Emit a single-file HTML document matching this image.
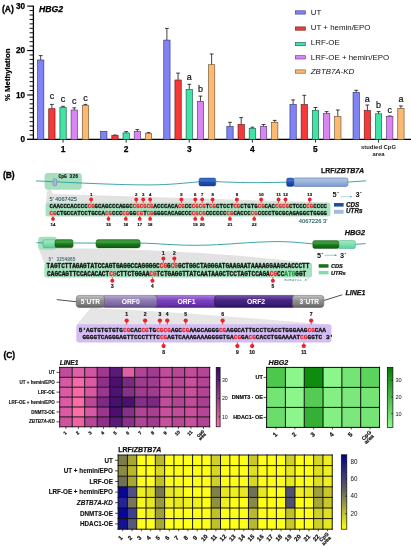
<!DOCTYPE html>
<html lang="en">
<head>
<meta charset="utf-8">
<title>Figure: methylation analysis</title>
<style>
html,body{margin:0;padding:0;background:#fff;}
body{width:411px;height:550px;overflow:hidden;font-family:"Liberation Sans", Arial, sans-serif;}
svg{display:block;}
svg text{font-family:"Liberation Sans", Arial, sans-serif;}
</style>
</head>
<body>
<svg width="411" height="550" viewBox="0 0 411 550">
<defs>
<linearGradient id="gGray" x1="0" y1="0" x2="0" y2="1"><stop offset="0" stop-color="#c4c4c4"/><stop offset="0.4" stop-color="#929292"/><stop offset="0.8" stop-color="#7a7a7a"/><stop offset="1" stop-color="#5c5c5c"/></linearGradient>
<linearGradient id="gOrf0" x1="0" y1="0" x2="0" y2="1"><stop offset="0" stop-color="#b9abd2"/><stop offset="0.4" stop-color="#8f7cb2"/><stop offset="0.8" stop-color="#7a669f"/><stop offset="1" stop-color="#5d4a84"/></linearGradient>
<linearGradient id="gOrf1" x1="0" y1="0" x2="0" y2="1"><stop offset="0" stop-color="#a880de"/><stop offset="0.4" stop-color="#7b42c0"/><stop offset="0.8" stop-color="#6a33aa"/><stop offset="1" stop-color="#4e2288"/></linearGradient>
<linearGradient id="gOrf2" x1="0" y1="0" x2="0" y2="1"><stop offset="0" stop-color="#7556aa"/><stop offset="0.4" stop-color="#472684"/><stop offset="0.8" stop-color="#3a1c72"/><stop offset="1" stop-color="#28105a"/></linearGradient>
<linearGradient id="gDG" x1="0" y1="0" x2="0" y2="1"><stop offset="0" stop-color="#2a8a2a"/><stop offset="0.28" stop-color="#3fa03f"/><stop offset="0.55" stop-color="#1a781a"/><stop offset="1" stop-color="#0f5a0f"/></linearGradient>
<linearGradient id="gLG" x1="0" y1="0" x2="0" y2="1"><stop offset="0" stop-color="#a6ecc6"/><stop offset="1" stop-color="#5ecf98"/></linearGradient>
<linearGradient id="gDB" x1="0" y1="0" x2="0" y2="1"><stop offset="0" stop-color="#2e5fbe"/><stop offset="0.3" stop-color="#3a6fd0"/><stop offset="0.55" stop-color="#2050ae"/><stop offset="1" stop-color="#173c8c"/></linearGradient>
<linearGradient id="gLB" x1="0" y1="0" x2="0" y2="1"><stop offset="0" stop-color="#b6c8e6"/><stop offset="0.5" stop-color="#9bb3db"/><stop offset="1" stop-color="#7b98c9"/></linearGradient>
<linearGradient id="cbLine" x1="0" y1="0" x2="0" y2="1"><stop offset="0" stop-color="#3a0868"/><stop offset="1" stop-color="#ff72ab"/></linearGradient>
<linearGradient id="cbHbg" x1="0" y1="0" x2="0" y2="1"><stop offset="0" stop-color="#087a08"/><stop offset="1" stop-color="#92f792"/></linearGradient>
<linearGradient id="cbLrf" x1="0" y1="0" x2="0" y2="1"><stop offset="0" stop-color="#00008c"/><stop offset="0.45" stop-color="#5c5c64"/><stop offset="1" stop-color="#ffff10"/></linearGradient>
</defs>
<rect x="0" y="0" width="411" height="550" fill="#ffffff"/>
<g id="panelA">
<text x="1.90" y="11.80" font-size="8.6" font-weight="bold" font-style="normal" text-anchor="start" fill="#000" stroke="#000" stroke-width="0.3">(A)</text>
<text x="39.00" y="12.00" font-size="8.7" font-weight="bold" font-style="italic" text-anchor="start" fill="#000" stroke="#000" stroke-width="0.25">HBG2</text>
<text transform="translate(10.4,74.8) rotate(-90)" font-size="7.8" font-weight="bold" text-anchor="middle" stroke="#000" stroke-width="0.2">% Methylation</text>
<line x1="33.40" y1="5.70" x2="33.40" y2="139.90" stroke="#000" stroke-width="1.3"/>
<line x1="27.20" y1="139.40" x2="33.40" y2="139.40" stroke="#000" stroke-width="1.15"/>
<text x="25.00" y="142.30" font-size="8.2" font-weight="bold" font-style="normal" text-anchor="end" fill="#000" stroke="#000" stroke-width="0.25">0</text>
<line x1="29.60" y1="134.96" x2="33.40" y2="134.96" stroke="#000" stroke-width="0.95"/>
<line x1="29.60" y1="130.51" x2="33.40" y2="130.51" stroke="#000" stroke-width="0.95"/>
<line x1="29.60" y1="126.07" x2="33.40" y2="126.07" stroke="#000" stroke-width="0.95"/>
<line x1="29.60" y1="121.63" x2="33.40" y2="121.63" stroke="#000" stroke-width="0.95"/>
<line x1="29.60" y1="117.19" x2="33.40" y2="117.19" stroke="#000" stroke-width="0.95"/>
<line x1="29.60" y1="112.74" x2="33.40" y2="112.74" stroke="#000" stroke-width="0.95"/>
<line x1="29.60" y1="108.30" x2="33.40" y2="108.30" stroke="#000" stroke-width="0.95"/>
<line x1="29.60" y1="103.86" x2="33.40" y2="103.86" stroke="#000" stroke-width="0.95"/>
<line x1="29.60" y1="99.41" x2="33.40" y2="99.41" stroke="#000" stroke-width="0.95"/>
<line x1="27.20" y1="94.97" x2="33.40" y2="94.97" stroke="#000" stroke-width="1.15"/>
<text x="25.00" y="97.87" font-size="8.2" font-weight="bold" font-style="normal" text-anchor="end" fill="#000" stroke="#000" stroke-width="0.25">10</text>
<line x1="29.60" y1="90.53" x2="33.40" y2="90.53" stroke="#000" stroke-width="0.95"/>
<line x1="29.60" y1="86.08" x2="33.40" y2="86.08" stroke="#000" stroke-width="0.95"/>
<line x1="29.60" y1="81.64" x2="33.40" y2="81.64" stroke="#000" stroke-width="0.95"/>
<line x1="29.60" y1="77.20" x2="33.40" y2="77.20" stroke="#000" stroke-width="0.95"/>
<line x1="29.60" y1="72.76" x2="33.40" y2="72.76" stroke="#000" stroke-width="0.95"/>
<line x1="29.60" y1="68.31" x2="33.40" y2="68.31" stroke="#000" stroke-width="0.95"/>
<line x1="29.60" y1="63.87" x2="33.40" y2="63.87" stroke="#000" stroke-width="0.95"/>
<line x1="29.60" y1="59.43" x2="33.40" y2="59.43" stroke="#000" stroke-width="0.95"/>
<line x1="29.60" y1="54.98" x2="33.40" y2="54.98" stroke="#000" stroke-width="0.95"/>
<line x1="27.20" y1="50.54" x2="33.40" y2="50.54" stroke="#000" stroke-width="1.15"/>
<text x="25.00" y="53.44" font-size="8.2" font-weight="bold" font-style="normal" text-anchor="end" fill="#000" stroke="#000" stroke-width="0.25">20</text>
<line x1="29.60" y1="46.10" x2="33.40" y2="46.10" stroke="#000" stroke-width="0.95"/>
<line x1="29.60" y1="41.65" x2="33.40" y2="41.65" stroke="#000" stroke-width="0.95"/>
<line x1="29.60" y1="37.21" x2="33.40" y2="37.21" stroke="#000" stroke-width="0.95"/>
<line x1="29.60" y1="32.77" x2="33.40" y2="32.77" stroke="#000" stroke-width="0.95"/>
<line x1="29.60" y1="28.33" x2="33.40" y2="28.33" stroke="#000" stroke-width="0.95"/>
<line x1="29.60" y1="23.88" x2="33.40" y2="23.88" stroke="#000" stroke-width="0.95"/>
<line x1="29.60" y1="19.44" x2="33.40" y2="19.44" stroke="#000" stroke-width="0.95"/>
<line x1="29.60" y1="15.00" x2="33.40" y2="15.00" stroke="#000" stroke-width="0.95"/>
<line x1="29.60" y1="10.55" x2="33.40" y2="10.55" stroke="#000" stroke-width="0.95"/>
<line x1="27.20" y1="6.11" x2="33.40" y2="6.11" stroke="#000" stroke-width="1.15"/>
<text x="25.00" y="9.01" font-size="8.2" font-weight="bold" font-style="normal" text-anchor="end" fill="#000" stroke="#000" stroke-width="0.25">30</text>
<line x1="27.20" y1="139.40" x2="411.00" y2="139.40" stroke="#000" stroke-width="1.3"/>
<line x1="40.70" y1="55.60" x2="40.70" y2="60.00" stroke="#111" stroke-width="0.8"/>
<line x1="38.80" y1="55.60" x2="42.60" y2="55.60" stroke="#111" stroke-width="0.8"/>
<rect x="37.55" y="60.00" width="6.30" height="79.40" fill="#8083f5" stroke="#34357a" stroke-width="0.65" rx="0"/>
<line x1="51.88" y1="104.40" x2="51.88" y2="108.70" stroke="#111" stroke-width="0.8"/>
<line x1="49.98" y1="104.40" x2="53.78" y2="104.40" stroke="#111" stroke-width="0.8"/>
<rect x="48.73" y="108.70" width="6.30" height="30.70" fill="#f53838" stroke="#6a1a1a" stroke-width="0.65" rx="0"/>
<text x="51.88" y="99.30" font-size="9.0" font-weight="normal" font-style="normal" text-anchor="middle" fill="#111" stroke="#111" stroke-width="0.2">c</text>
<line x1="63.06" y1="106.30" x2="63.06" y2="107.30" stroke="#111" stroke-width="0.8"/>
<line x1="61.16" y1="106.30" x2="64.96" y2="106.30" stroke="#111" stroke-width="0.8"/>
<rect x="59.91" y="107.30" width="6.30" height="32.10" fill="#40e4a6" stroke="#1d5a44" stroke-width="0.65" rx="0"/>
<text x="63.06" y="102.00" font-size="9.0" font-weight="normal" font-style="normal" text-anchor="middle" fill="#111" stroke="#111" stroke-width="0.2">c</text>
<line x1="74.24" y1="107.80" x2="74.24" y2="110.00" stroke="#111" stroke-width="0.8"/>
<line x1="72.34" y1="107.80" x2="76.14" y2="107.80" stroke="#111" stroke-width="0.8"/>
<rect x="71.09" y="110.00" width="6.30" height="29.40" fill="#d786f3" stroke="#5e3670" stroke-width="0.65" rx="0"/>
<text x="74.24" y="103.90" font-size="9.0" font-weight="normal" font-style="normal" text-anchor="middle" fill="#111" stroke="#111" stroke-width="0.2">c</text>
<line x1="85.42" y1="104.40" x2="85.42" y2="105.30" stroke="#111" stroke-width="0.8"/>
<line x1="83.52" y1="104.40" x2="87.32" y2="104.40" stroke="#111" stroke-width="0.8"/>
<rect x="82.27" y="105.30" width="6.30" height="34.10" fill="#fbb972" stroke="#6e5330" stroke-width="0.65" rx="0"/>
<text x="85.42" y="100.70" font-size="9.0" font-weight="normal" font-style="normal" text-anchor="middle" fill="#111" stroke="#111" stroke-width="0.2">c</text>
<rect x="100.65" y="131.30" width="6.30" height="8.10" fill="#8083f5" stroke="#34357a" stroke-width="0.65" rx="0"/>
<line x1="114.98" y1="135.00" x2="114.98" y2="135.60" stroke="#111" stroke-width="0.8"/>
<line x1="113.08" y1="135.00" x2="116.88" y2="135.00" stroke="#111" stroke-width="0.8"/>
<rect x="111.83" y="135.60" width="6.30" height="3.80" fill="#f53838" stroke="#6a1a1a" stroke-width="0.65" rx="0"/>
<line x1="126.16" y1="131.60" x2="126.16" y2="132.90" stroke="#111" stroke-width="0.8"/>
<line x1="124.26" y1="131.60" x2="128.06" y2="131.60" stroke="#111" stroke-width="0.8"/>
<rect x="123.01" y="132.90" width="6.30" height="6.50" fill="#40e4a6" stroke="#1d5a44" stroke-width="0.65" rx="0"/>
<line x1="137.34" y1="129.60" x2="137.34" y2="131.30" stroke="#111" stroke-width="0.8"/>
<line x1="135.44" y1="129.60" x2="139.24" y2="129.60" stroke="#111" stroke-width="0.8"/>
<rect x="134.19" y="131.30" width="6.30" height="8.10" fill="#d786f3" stroke="#5e3670" stroke-width="0.65" rx="0"/>
<line x1="148.52" y1="132.60" x2="148.52" y2="133.50" stroke="#111" stroke-width="0.8"/>
<line x1="146.62" y1="132.60" x2="150.42" y2="132.60" stroke="#111" stroke-width="0.8"/>
<rect x="145.37" y="133.50" width="6.30" height="5.90" fill="#fbb972" stroke="#6e5330" stroke-width="0.65" rx="0"/>
<line x1="166.90" y1="28.40" x2="166.90" y2="40.10" stroke="#111" stroke-width="0.8"/>
<line x1="165.00" y1="28.40" x2="168.80" y2="28.40" stroke="#111" stroke-width="0.8"/>
<rect x="163.75" y="40.10" width="6.30" height="99.30" fill="#8083f5" stroke="#34357a" stroke-width="0.65" rx="0"/>
<line x1="178.08" y1="73.10" x2="178.08" y2="80.00" stroke="#111" stroke-width="0.8"/>
<line x1="176.18" y1="73.10" x2="179.98" y2="73.10" stroke="#111" stroke-width="0.8"/>
<rect x="174.93" y="80.00" width="6.30" height="59.40" fill="#f53838" stroke="#6a1a1a" stroke-width="0.65" rx="0"/>
<line x1="189.26" y1="84.30" x2="189.26" y2="89.50" stroke="#111" stroke-width="0.8"/>
<line x1="187.36" y1="84.30" x2="191.16" y2="84.30" stroke="#111" stroke-width="0.8"/>
<rect x="186.11" y="89.50" width="6.30" height="49.90" fill="#40e4a6" stroke="#1d5a44" stroke-width="0.65" rx="0"/>
<text x="189.26" y="80.20" font-size="9.0" font-weight="normal" font-style="normal" text-anchor="middle" fill="#111" stroke="#111" stroke-width="0.2">a</text>
<line x1="200.44" y1="96.10" x2="200.44" y2="101.30" stroke="#111" stroke-width="0.8"/>
<line x1="198.54" y1="96.10" x2="202.34" y2="96.10" stroke="#111" stroke-width="0.8"/>
<rect x="197.29" y="101.30" width="6.30" height="38.10" fill="#d786f3" stroke="#5e3670" stroke-width="0.65" rx="0"/>
<text x="200.44" y="91.60" font-size="9.0" font-weight="normal" font-style="normal" text-anchor="middle" fill="#111" stroke="#111" stroke-width="0.2">b</text>
<line x1="211.62" y1="54.00" x2="211.62" y2="64.70" stroke="#111" stroke-width="0.8"/>
<line x1="209.72" y1="54.00" x2="213.52" y2="54.00" stroke="#111" stroke-width="0.8"/>
<rect x="208.47" y="64.70" width="6.30" height="74.70" fill="#fbb972" stroke="#6e5330" stroke-width="0.65" rx="0"/>
<line x1="230.00" y1="122.30" x2="230.00" y2="126.60" stroke="#111" stroke-width="0.8"/>
<line x1="228.10" y1="122.30" x2="231.90" y2="122.30" stroke="#111" stroke-width="0.8"/>
<rect x="226.85" y="126.60" width="6.30" height="12.80" fill="#8083f5" stroke="#34357a" stroke-width="0.65" rx="0"/>
<line x1="241.18" y1="117.60" x2="241.18" y2="124.50" stroke="#111" stroke-width="0.8"/>
<line x1="239.28" y1="117.60" x2="243.08" y2="117.60" stroke="#111" stroke-width="0.8"/>
<rect x="238.03" y="124.50" width="6.30" height="14.90" fill="#f53838" stroke="#6a1a1a" stroke-width="0.65" rx="0"/>
<line x1="252.36" y1="127.20" x2="252.36" y2="128.30" stroke="#111" stroke-width="0.8"/>
<line x1="250.46" y1="127.20" x2="254.26" y2="127.20" stroke="#111" stroke-width="0.8"/>
<rect x="249.21" y="128.30" width="6.30" height="11.10" fill="#40e4a6" stroke="#1d5a44" stroke-width="0.65" rx="0"/>
<line x1="263.54" y1="124.50" x2="263.54" y2="126.60" stroke="#111" stroke-width="0.8"/>
<line x1="261.64" y1="124.50" x2="265.44" y2="124.50" stroke="#111" stroke-width="0.8"/>
<rect x="260.39" y="126.60" width="6.30" height="12.80" fill="#d786f3" stroke="#5e3670" stroke-width="0.65" rx="0"/>
<line x1="274.72" y1="120.40" x2="274.72" y2="122.30" stroke="#111" stroke-width="0.8"/>
<line x1="272.82" y1="120.40" x2="276.62" y2="120.40" stroke="#111" stroke-width="0.8"/>
<rect x="271.57" y="122.30" width="6.30" height="17.10" fill="#fbb972" stroke="#6e5330" stroke-width="0.65" rx="0"/>
<line x1="293.10" y1="99.90" x2="293.10" y2="104.50" stroke="#111" stroke-width="0.8"/>
<line x1="291.20" y1="99.90" x2="295.00" y2="99.90" stroke="#111" stroke-width="0.8"/>
<rect x="289.95" y="104.50" width="6.30" height="34.90" fill="#8083f5" stroke="#34357a" stroke-width="0.65" rx="0"/>
<line x1="304.28" y1="95.30" x2="304.28" y2="104.50" stroke="#111" stroke-width="0.8"/>
<line x1="302.38" y1="95.30" x2="306.18" y2="95.30" stroke="#111" stroke-width="0.8"/>
<rect x="301.13" y="104.50" width="6.30" height="34.90" fill="#f53838" stroke="#6a1a1a" stroke-width="0.65" rx="0"/>
<line x1="315.46" y1="107.50" x2="315.46" y2="110.30" stroke="#111" stroke-width="0.8"/>
<line x1="313.56" y1="107.50" x2="317.36" y2="107.50" stroke="#111" stroke-width="0.8"/>
<rect x="312.31" y="110.30" width="6.30" height="29.10" fill="#40e4a6" stroke="#1d5a44" stroke-width="0.65" rx="0"/>
<line x1="326.64" y1="111.60" x2="326.64" y2="113.30" stroke="#111" stroke-width="0.8"/>
<line x1="324.74" y1="111.60" x2="328.54" y2="111.60" stroke="#111" stroke-width="0.8"/>
<rect x="323.49" y="113.30" width="6.30" height="26.10" fill="#d786f3" stroke="#5e3670" stroke-width="0.65" rx="0"/>
<line x1="337.82" y1="110.00" x2="337.82" y2="116.50" stroke="#111" stroke-width="0.8"/>
<line x1="335.92" y1="110.00" x2="339.72" y2="110.00" stroke="#111" stroke-width="0.8"/>
<rect x="334.67" y="116.50" width="6.30" height="22.90" fill="#fbb972" stroke="#6e5330" stroke-width="0.65" rx="0"/>
<line x1="356.20" y1="90.30" x2="356.20" y2="92.50" stroke="#111" stroke-width="0.8"/>
<line x1="354.30" y1="90.30" x2="358.10" y2="90.30" stroke="#111" stroke-width="0.8"/>
<rect x="353.05" y="92.50" width="6.30" height="46.90" fill="#8083f5" stroke="#34357a" stroke-width="0.65" rx="0"/>
<line x1="367.38" y1="105.00" x2="367.38" y2="110.50" stroke="#111" stroke-width="0.8"/>
<line x1="365.48" y1="105.00" x2="369.28" y2="105.00" stroke="#111" stroke-width="0.8"/>
<rect x="364.23" y="110.50" width="6.30" height="28.90" fill="#f53838" stroke="#6a1a1a" stroke-width="0.65" rx="0"/>
<text x="367.38" y="102.00" font-size="9.0" font-weight="normal" font-style="normal" text-anchor="middle" fill="#111" stroke="#111" stroke-width="0.2">a</text>
<line x1="378.56" y1="111.60" x2="378.56" y2="113.80" stroke="#111" stroke-width="0.8"/>
<line x1="376.66" y1="111.60" x2="380.46" y2="111.60" stroke="#111" stroke-width="0.8"/>
<rect x="375.41" y="113.80" width="6.30" height="25.60" fill="#40e4a6" stroke="#1d5a44" stroke-width="0.65" rx="0"/>
<text x="378.56" y="108.30" font-size="9.0" font-weight="normal" font-style="normal" text-anchor="middle" fill="#111" stroke="#111" stroke-width="0.2">b</text>
<line x1="389.74" y1="116.00" x2="389.74" y2="116.50" stroke="#111" stroke-width="0.8"/>
<line x1="387.84" y1="116.00" x2="391.64" y2="116.00" stroke="#111" stroke-width="0.8"/>
<rect x="386.59" y="116.50" width="6.30" height="22.90" fill="#d786f3" stroke="#5e3670" stroke-width="0.65" rx="0"/>
<text x="389.74" y="112.70" font-size="9.0" font-weight="normal" font-style="normal" text-anchor="middle" fill="#111" stroke="#111" stroke-width="0.2">c</text>
<line x1="400.92" y1="105.90" x2="400.92" y2="108.40" stroke="#111" stroke-width="0.8"/>
<line x1="399.02" y1="105.90" x2="402.82" y2="105.90" stroke="#111" stroke-width="0.8"/>
<rect x="397.77" y="108.40" width="6.30" height="31.00" fill="#fbb972" stroke="#6e5330" stroke-width="0.65" rx="0"/>
<text x="400.92" y="102.00" font-size="9.0" font-weight="normal" font-style="normal" text-anchor="middle" fill="#111" stroke="#111" stroke-width="0.2">a</text>
<line x1="63.06" y1="139.40" x2="63.06" y2="142.60" stroke="#000" stroke-width="0.8"/>
<text x="63.06" y="151.60" font-size="8.4" font-weight="bold" font-style="normal" text-anchor="middle" fill="#000" stroke="#000" stroke-width="0.25">1</text>
<line x1="126.16" y1="139.40" x2="126.16" y2="142.60" stroke="#000" stroke-width="0.8"/>
<text x="126.16" y="151.60" font-size="8.4" font-weight="bold" font-style="normal" text-anchor="middle" fill="#000" stroke="#000" stroke-width="0.25">2</text>
<line x1="189.26" y1="139.40" x2="189.26" y2="142.60" stroke="#000" stroke-width="0.8"/>
<text x="189.26" y="151.60" font-size="8.4" font-weight="bold" font-style="normal" text-anchor="middle" fill="#000" stroke="#000" stroke-width="0.25">3</text>
<line x1="252.36" y1="139.40" x2="252.36" y2="142.60" stroke="#000" stroke-width="0.8"/>
<text x="252.36" y="151.60" font-size="8.4" font-weight="bold" font-style="normal" text-anchor="middle" fill="#000" stroke="#000" stroke-width="0.25">4</text>
<line x1="315.46" y1="139.40" x2="315.46" y2="142.60" stroke="#000" stroke-width="0.8"/>
<text x="315.46" y="151.60" font-size="8.4" font-weight="bold" font-style="normal" text-anchor="middle" fill="#000" stroke="#000" stroke-width="0.25">5</text>
<line x1="378.56" y1="139.40" x2="378.56" y2="142.60" stroke="#000" stroke-width="0.8"/>
<text x="378.56" y="148.60" font-size="5.9" font-weight="bold" font-style="normal" text-anchor="middle" fill="#222">studied CpG</text>
<text x="378.56" y="155.80" font-size="5.9" font-weight="bold" font-style="normal" text-anchor="middle" fill="#222">area</text>
<rect x="295.40" y="10.80" width="10.00" height="3.30" fill="#8083f5" stroke="#34357a" stroke-width="0.6" rx="0"/>
<text x="310.80" y="15.30" font-size="7.9" font-weight="normal" font-style="normal" text-anchor="start" fill="#111">UT</text>
<rect x="295.40" y="26.90" width="10.00" height="3.30" fill="#f53838" stroke="#6a1a1a" stroke-width="0.6" rx="0"/>
<text x="310.80" y="30.05" font-size="7.9" font-weight="normal" font-style="normal" text-anchor="start" fill="#111">UT + hemin/EPO</text>
<rect x="295.40" y="42.40" width="10.00" height="3.30" fill="#40e4a6" stroke="#1d5a44" stroke-width="0.6" rx="0"/>
<text x="310.80" y="44.80" font-size="7.9" font-weight="normal" font-style="normal" text-anchor="start" fill="#111">LRF-OE</text>
<rect x="295.40" y="55.70" width="10.00" height="3.30" fill="#d786f3" stroke="#5e3670" stroke-width="0.6" rx="0"/>
<text x="310.80" y="59.55" font-size="7.9" font-weight="normal" font-style="normal" text-anchor="start" fill="#111">LRF-OE + hemin/EPO</text>
<rect x="295.40" y="69.90" width="10.00" height="3.30" fill="#fbb972" stroke="#6e5330" stroke-width="0.6" rx="0"/>
<text x="310.80" y="74.30" font-size="7.9" font-weight="normal" font-style="italic" text-anchor="start" fill="#111">ZBTB7A-KD</text>
</g>
<g id="panelB">
<text x="2.90" y="178.20" font-size="8.5" font-weight="bold" font-style="normal" text-anchor="start" fill="#000" stroke="#000" stroke-width="0.3">(B)</text>
<polygon points="47.6,189.4 51.2,189.4 52.4,194.0 329,202.5 329,204 46,204 46.6,194.2" fill="#e2e2e2"/>
<rect x="44.60" y="172.90" width="37.20" height="16.80" fill="#9fddba" stroke="none" stroke-width="0" rx="3.4" fill-opacity="0.94"/>
<path d="M36,180.9 C80,183 120,185 150,184.9 C170,184.8 185,183 199,181.8" fill="none" stroke="#2a9aa2" stroke-width="0.9"/>
<path d="M216,181.6 C232,182.4 250,182.8 262,182.6 L287,182.2" fill="none" stroke="#2a9aa2" stroke-width="0.9"/>
<path d="M347.6,182.1 L366,180.8" fill="none" stroke="#2a9aa2" stroke-width="0.9"/>
<rect x="53.00" y="178.90" width="3.70" height="6.80" fill="#aab4de" stroke="#6b78b8" stroke-width="0.5" rx="0.8"/>
<text x="58.60" y="177.80" font-size="4.6" font-weight="bold" font-style="normal" text-anchor="start" fill="#14201e" stroke="#14201e" stroke-width="0.2" style="font-family:'Liberation Mono','DejaVu Sans Mono',monospace">CpG 326</text>
<rect x="199.00" y="178.00" width="16.80" height="8.00" fill="url(#gDB)" stroke="#163a7c" stroke-width="0.4" rx="1.8"/>
<rect x="293.00" y="178.00" width="54.90" height="8.40" fill="url(#gLB)" stroke="#4f6fa6" stroke-width="0.6" rx="1.9"/>
<rect x="286.60" y="178.00" width="7.20" height="8.40" fill="url(#gDB)" stroke="#163a7c" stroke-width="0.4" rx="1.7"/>
<text x="321.0" y="173.4" font-size="7.2" font-weight="bold" fill="#111" stroke="#111" stroke-width="0.25" textLength="43.2" lengthAdjust="spacingAndGlyphs">LRF/<tspan font-style="italic">ZBTB7A</tspan></text>
<text x="332.60" y="197.20" font-size="7.4" font-weight="bold" font-style="normal" text-anchor="start" fill="#111">5´</text>
<text x="355.40" y="197.20" font-size="7.4" font-weight="bold" font-style="normal" text-anchor="start" fill="#111">3´</text>
<line x1="340.60" y1="196.70" x2="351.00" y2="196.70" stroke="#6cc4c4" stroke-width="0.55"/>
<path d="M350.4,195.8 L352.2,196.7 L350.4,197.6 Z" fill="#2a9aa2"/>
<rect x="334.00" y="203.00" width="9.60" height="3.60" fill="#1f4f9f" stroke="none" stroke-width="0" rx="0"/>
<rect x="334.00" y="209.80" width="9.60" height="4.00" fill="#a3b9e0" stroke="none" stroke-width="0" rx="0"/>
<text x="346.00" y="207.10" font-size="6.3" font-weight="bold" font-style="italic" text-anchor="start" fill="#111" stroke="#111" stroke-width="0.25">CDS</text>
<text x="346.00" y="213.40" font-size="6.3" font-weight="bold" font-style="italic" text-anchor="start" fill="#111" stroke="#111" stroke-width="0.25">UTRs</text>
<rect x="45.60" y="202.70" width="284.80" height="13.80" fill="#a6e2be" stroke="none" stroke-width="0" rx="2.2"/>
<text x="49.50" y="200.60" font-size="5.6" font-weight="normal" font-style="normal" text-anchor="start" fill="#235e66" stroke="#235e66" stroke-width="0.12">5’ 4067425</text>
<text x="298.80" y="222.60" font-size="5.8" font-weight="normal" font-style="normal" text-anchor="start" fill="#235e66" stroke="#235e66" stroke-width="0.12">4067226 3’</text>
<text transform="translate(49.50,208.40) scale(1,0.97)" x="0" y="0" font-size="5.783" font-weight="bold" xml:space="preserve" style="font-family:'Liberation Mono','DejaVu Sans Mono',monospace" textLength="277.60" lengthAdjust="spacing" stroke-width="0.3" stroke-linejoin="round"><tspan fill="#111" stroke="#111">CAACCCACCCC</tspan><tspan fill="#e8232b" stroke="#e8232b">CG</tspan><tspan fill="#111" stroke="#111">GCAGCCCAGGC</tspan><tspan fill="#e8232b" stroke="#e8232b">CGCGCG</tspan><tspan fill="#111" stroke="#111">ACCCACA</tspan><tspan fill="#e8232b" stroke="#e8232b">CG</tspan><tspan fill="#111" stroke="#111">CC</tspan><tspan fill="#e8232b" stroke="#e8232b">CGCG</tspan><tspan fill="#111" stroke="#111">T</tspan><tspan fill="#e8232b" stroke="#e8232b">CG</tspan><tspan fill="#111" stroke="#111">CTCCT</tspan><tspan fill="#e8232b" stroke="#e8232b">CG</tspan><tspan fill="#111" stroke="#111">CTGTG</tspan><tspan fill="#e8232b" stroke="#e8232b">CG</tspan><tspan fill="#111" stroke="#111">CAC</tspan><tspan fill="#e8232b" stroke="#e8232b">CGCG</tspan><tspan fill="#111" stroke="#111">CTCCC</tspan><tspan fill="#e8232b" stroke="#e8232b">CG</tspan><tspan fill="#111" stroke="#111">CCCC</tspan></text>
<text transform="translate(49.50,214.90) scale(1,0.97)" x="0" y="0" font-size="5.783" font-weight="bold" xml:space="preserve" style="font-family:'Liberation Mono','DejaVu Sans Mono',monospace" textLength="277.60" lengthAdjust="spacing" stroke-width="0.3" stroke-linejoin="round"><tspan fill="#e8232b" stroke="#e8232b">CG</tspan><tspan fill="#111" stroke="#111">CTGCCATCCTGCCA</tspan><tspan fill="#e8232b" stroke="#e8232b">CG</tspan><tspan fill="#111" stroke="#111">CCC</tspan><tspan fill="#e8232b" stroke="#e8232b">CG</tspan><tspan fill="#111" stroke="#111">GG</tspan><tspan fill="#e8232b" stroke="#e8232b">CG</tspan><tspan fill="#111" stroke="#111">T</tspan><tspan fill="#e8232b" stroke="#e8232b">CG</tspan><tspan fill="#111" stroke="#111">GGGCACAGCCC</tspan><tspan fill="#e8232b" stroke="#e8232b">CGCG</tspan><tspan fill="#111" stroke="#111">CCCCCC</tspan><tspan fill="#e8232b" stroke="#e8232b">CG</tspan><tspan fill="#111" stroke="#111">CACCC</tspan><tspan fill="#e8232b" stroke="#e8232b">CG</tspan><tspan fill="#111" stroke="#111">CCCCTGCGCAGAGGCTGGGG</tspan></text>
<line x1="91.14" y1="203.10" x2="91.14" y2="199.40" stroke="#e8232b" stroke-width="0.8"/>
<circle cx="91.14" cy="199.40" r="1.9" fill="#e8232b"/>
<text x="91.14" y="195.60" font-size="4.3" font-weight="bold" font-style="normal" text-anchor="middle" fill="#111" stroke="#111" stroke-width="0.18">1</text>
<line x1="136.25" y1="203.10" x2="136.25" y2="199.40" stroke="#e8232b" stroke-width="0.8"/>
<circle cx="136.25" cy="199.40" r="1.9" fill="#e8232b"/>
<text x="136.25" y="195.60" font-size="4.3" font-weight="bold" font-style="normal" text-anchor="middle" fill="#111" stroke="#111" stroke-width="0.18">2</text>
<line x1="143.19" y1="203.10" x2="143.19" y2="199.40" stroke="#e8232b" stroke-width="0.8"/>
<circle cx="143.19" cy="199.40" r="1.9" fill="#e8232b"/>
<text x="143.19" y="195.60" font-size="4.3" font-weight="bold" font-style="normal" text-anchor="middle" fill="#111" stroke="#111" stroke-width="0.18">3</text>
<line x1="150.13" y1="203.10" x2="150.13" y2="199.40" stroke="#e8232b" stroke-width="0.8"/>
<circle cx="150.13" cy="199.40" r="1.9" fill="#e8232b"/>
<text x="150.13" y="195.60" font-size="4.3" font-weight="bold" font-style="normal" text-anchor="middle" fill="#111" stroke="#111" stroke-width="0.18">4</text>
<line x1="181.36" y1="203.10" x2="181.36" y2="199.40" stroke="#e8232b" stroke-width="0.8"/>
<circle cx="181.36" cy="199.40" r="1.9" fill="#e8232b"/>
<text x="181.36" y="195.60" font-size="4.3" font-weight="bold" font-style="normal" text-anchor="middle" fill="#111" stroke="#111" stroke-width="0.18">5</text>
<line x1="195.24" y1="203.10" x2="195.24" y2="199.40" stroke="#e8232b" stroke-width="0.8"/>
<circle cx="195.24" cy="199.40" r="1.9" fill="#e8232b"/>
<text x="195.24" y="195.60" font-size="4.3" font-weight="bold" font-style="normal" text-anchor="middle" fill="#111" stroke="#111" stroke-width="0.18">6</text>
<line x1="202.18" y1="203.10" x2="202.18" y2="199.40" stroke="#e8232b" stroke-width="0.8"/>
<circle cx="202.18" cy="199.40" r="1.9" fill="#e8232b"/>
<text x="202.18" y="195.60" font-size="4.3" font-weight="bold" font-style="normal" text-anchor="middle" fill="#111" stroke="#111" stroke-width="0.18">7</text>
<line x1="212.59" y1="203.10" x2="212.59" y2="199.40" stroke="#e8232b" stroke-width="0.8"/>
<circle cx="212.59" cy="199.40" r="1.9" fill="#e8232b"/>
<text x="212.59" y="195.60" font-size="4.3" font-weight="bold" font-style="normal" text-anchor="middle" fill="#111" stroke="#111" stroke-width="0.18">8</text>
<line x1="236.88" y1="203.10" x2="236.88" y2="199.40" stroke="#e8232b" stroke-width="0.8"/>
<circle cx="236.88" cy="199.40" r="1.9" fill="#e8232b"/>
<text x="236.88" y="195.60" font-size="4.3" font-weight="bold" font-style="normal" text-anchor="middle" fill="#111" stroke="#111" stroke-width="0.18">9</text>
<line x1="261.17" y1="203.10" x2="261.17" y2="199.40" stroke="#e8232b" stroke-width="0.8"/>
<circle cx="261.17" cy="199.40" r="1.9" fill="#e8232b"/>
<text x="261.17" y="195.60" font-size="4.3" font-weight="bold" font-style="normal" text-anchor="middle" fill="#111" stroke="#111" stroke-width="0.18">10</text>
<line x1="278.52" y1="203.10" x2="278.52" y2="199.40" stroke="#e8232b" stroke-width="0.8"/>
<circle cx="278.52" cy="199.40" r="1.9" fill="#e8232b"/>
<text x="278.52" y="195.60" font-size="4.3" font-weight="bold" font-style="normal" text-anchor="middle" fill="#111" stroke="#111" stroke-width="0.18">11</text>
<line x1="285.46" y1="203.10" x2="285.46" y2="199.40" stroke="#e8232b" stroke-width="0.8"/>
<circle cx="285.46" cy="199.40" r="1.9" fill="#e8232b"/>
<text x="285.46" y="195.60" font-size="4.3" font-weight="bold" font-style="normal" text-anchor="middle" fill="#111" stroke="#111" stroke-width="0.18">12</text>
<line x1="309.75" y1="203.10" x2="309.75" y2="199.40" stroke="#e8232b" stroke-width="0.8"/>
<circle cx="309.75" cy="199.40" r="1.9" fill="#e8232b"/>
<text x="309.75" y="195.60" font-size="4.3" font-weight="bold" font-style="normal" text-anchor="middle" fill="#111" stroke="#111" stroke-width="0.18">13</text>
<line x1="52.97" y1="216.10" x2="52.97" y2="218.90" stroke="#e8232b" stroke-width="0.8"/>
<circle cx="52.97" cy="218.90" r="1.9" fill="#e8232b"/>
<text x="52.97" y="225.70" font-size="4.3" font-weight="bold" font-style="normal" text-anchor="middle" fill="#111" stroke="#111" stroke-width="0.18">14</text>
<line x1="108.49" y1="216.10" x2="108.49" y2="218.90" stroke="#e8232b" stroke-width="0.8"/>
<circle cx="108.49" cy="218.90" r="1.9" fill="#e8232b"/>
<text x="108.49" y="225.70" font-size="4.3" font-weight="bold" font-style="normal" text-anchor="middle" fill="#111" stroke="#111" stroke-width="0.18">15</text>
<line x1="125.84" y1="216.10" x2="125.84" y2="218.90" stroke="#e8232b" stroke-width="0.8"/>
<circle cx="125.84" cy="218.90" r="1.9" fill="#e8232b"/>
<text x="125.84" y="225.70" font-size="4.3" font-weight="bold" font-style="normal" text-anchor="middle" fill="#111" stroke="#111" stroke-width="0.18">16</text>
<line x1="139.72" y1="216.10" x2="139.72" y2="218.90" stroke="#e8232b" stroke-width="0.8"/>
<circle cx="139.72" cy="218.90" r="1.9" fill="#e8232b"/>
<text x="139.72" y="225.70" font-size="4.3" font-weight="bold" font-style="normal" text-anchor="middle" fill="#111" stroke="#111" stroke-width="0.18">17</text>
<line x1="150.13" y1="216.10" x2="150.13" y2="218.90" stroke="#e8232b" stroke-width="0.8"/>
<circle cx="150.13" cy="218.90" r="1.9" fill="#e8232b"/>
<text x="150.13" y="225.70" font-size="4.3" font-weight="bold" font-style="normal" text-anchor="middle" fill="#111" stroke="#111" stroke-width="0.18">18</text>
<line x1="195.24" y1="216.10" x2="195.24" y2="218.90" stroke="#e8232b" stroke-width="0.8"/>
<circle cx="195.24" cy="218.90" r="1.9" fill="#e8232b"/>
<text x="195.24" y="225.70" font-size="4.3" font-weight="bold" font-style="normal" text-anchor="middle" fill="#111" stroke="#111" stroke-width="0.18">19</text>
<line x1="202.18" y1="216.10" x2="202.18" y2="218.90" stroke="#e8232b" stroke-width="0.8"/>
<circle cx="202.18" cy="218.90" r="1.9" fill="#e8232b"/>
<text x="202.18" y="225.70" font-size="4.3" font-weight="bold" font-style="normal" text-anchor="middle" fill="#111" stroke="#111" stroke-width="0.18">20</text>
<line x1="229.94" y1="216.10" x2="229.94" y2="218.90" stroke="#e8232b" stroke-width="0.8"/>
<circle cx="229.94" cy="218.90" r="1.9" fill="#e8232b"/>
<text x="229.94" y="225.70" font-size="4.3" font-weight="bold" font-style="normal" text-anchor="middle" fill="#111" stroke="#111" stroke-width="0.18">21</text>
<line x1="254.23" y1="216.10" x2="254.23" y2="218.90" stroke="#e8232b" stroke-width="0.8"/>
<circle cx="254.23" cy="218.90" r="1.9" fill="#e8232b"/>
<text x="254.23" y="225.70" font-size="4.3" font-weight="bold" font-style="normal" text-anchor="middle" fill="#111" stroke="#111" stroke-width="0.18">22</text>
<path d="M38.8,249.6 L56.0,248.2 Q175,247.8 312.0,262.9 L44.4,262.9 Z" fill="#e2e2e2"/>
<rect x="38.20" y="236.70" width="18.60" height="13.10" fill="#9fddba" stroke="none" stroke-width="0" rx="3.0" fill-opacity="0.92"/>
<path d="M36.5,242.7 L43,242.9" fill="none" stroke="#2a9aa2" stroke-width="0.9"/>
<path d="M74,243 L96,243.1" fill="none" stroke="#2a9aa2" stroke-width="0.9"/>
<path d="M139.5,243 C160,243.6 175,245.3 195,245.3 C225,245.3 250,241.6 278,241.6 C292,241.6 303,243 313,243.9" fill="none" stroke="#2a9aa2" stroke-width="0.9"/>
<path d="M355.2,244.3 L365.6,243.6" fill="none" stroke="#2a9aa2" stroke-width="0.9"/>
<rect x="43.00" y="239.80" width="13.00" height="7.90" fill="url(#gLG)" stroke="#3aa878" stroke-width="0.5" rx="1.4"/>
<rect x="54.90" y="239.60" width="18.30" height="8.20" fill="url(#gDG)" stroke="#0f4f0f" stroke-width="0.4" rx="2.2"/>
<rect x="96.00" y="239.60" width="44.20" height="8.30" fill="url(#gDG)" stroke="#0f4f0f" stroke-width="0.4" rx="2.4"/>
<rect x="338.00" y="240.60" width="17.40" height="7.90" fill="url(#gLG)" stroke="#3aa878" stroke-width="0.5" rx="1.6"/>
<rect x="312.80" y="240.60" width="26.00" height="7.90" fill="url(#gDG)" stroke="#0f4f0f" stroke-width="0.4" rx="1.8"/>
<text x="344.80" y="235.00" font-size="7.3" font-weight="bold" font-style="italic" text-anchor="start" fill="#111" stroke="#111" stroke-width="0.25">HBG2</text>
<text x="316.90" y="257.50" font-size="7.3" font-weight="bold" font-style="normal" text-anchor="start" fill="#111">5´</text>
<text x="339.90" y="257.50" font-size="7.3" font-weight="bold" font-style="normal" text-anchor="start" fill="#111">3´</text>
<line x1="324.80" y1="255.30" x2="335.60" y2="255.30" stroke="#4ab0b4" stroke-width="0.6"/>
<path d="M334.8,254.3 L336.9,255.3 L334.8,256.3 Z" fill="#2a9aa2"/>
<rect x="318.70" y="264.20" width="9.80" height="3.50" fill="#1c6e1c" stroke="none" stroke-width="0" rx="0"/>
<rect x="318.70" y="270.90" width="9.80" height="3.50" fill="#7fdcae" stroke="none" stroke-width="0" rx="0"/>
<text x="330.90" y="267.80" font-size="5.7" font-weight="bold" font-style="italic" text-anchor="start" fill="#111" stroke="#111" stroke-width="0.22">CDS</text>
<text x="330.90" y="274.60" font-size="5.7" font-weight="bold" font-style="italic" text-anchor="start" fill="#111" stroke="#111" stroke-width="0.22">UTRs</text>
<rect x="44.40" y="262.70" width="267.60" height="14.80" fill="#a6e2be" stroke="none" stroke-width="0" rx="2.2"/>
<text x="48.40" y="260.60" font-size="4.5" font-weight="bold" font-style="normal" text-anchor="start" fill="#3f6e70" style="font-family:'Liberation Mono','DejaVu Sans Mono',monospace">5' 3254865</text>
<text x="284.20" y="281.00" font-size="4.2" font-weight="normal" font-style="normal" text-anchor="start" fill="#2f7f80" style="font-family:'Liberation Mono','DejaVu Sans Mono',monospace">5254722 3'</text>
<text transform="translate(46.60,268.40) scale(1,1.06)" x="0" y="0" font-size="6.083" font-weight="bold" xml:space="preserve" style="font-family:'Liberation Mono','DejaVu Sans Mono',monospace" textLength="262.80" lengthAdjust="spacing" stroke-width="0.3" stroke-linejoin="round"><tspan fill="#111" stroke="#111">TAGTCTTAGAGTATCCAGTGAGGCCAGGGGC</tspan><tspan fill="#e8232b" stroke="#e8232b">CG</tspan><tspan fill="#111" stroke="#111">G</tspan><tspan fill="#e8232b" stroke="#e8232b">CG</tspan><tspan fill="#111" stroke="#111">GCTGGCTAGGGATGAAGAATAAAAGGAAGCACCCTT</tspan></text>
<text transform="translate(47.10,276.00) scale(1,1.06)" x="0" y="0" font-size="6.083" font-weight="bold" xml:space="preserve" style="font-family:'Liberation Mono','DejaVu Sans Mono',monospace" textLength="259.15" lengthAdjust="spacing" stroke-width="0.3" stroke-linejoin="round"><tspan fill="#111" stroke="#111">CAGCAGTTCCACACACT</tspan><tspan fill="#e8232b" stroke="#e8232b">CG</tspan><tspan fill="#111" stroke="#111">CTTCTGGAA</tspan><tspan fill="#e8232b" stroke="#e8232b">CG</tspan><tspan fill="#111" stroke="#111">TCTGAGGTTATCAATAAGCTCCTAGTCCAGA</tspan><tspan fill="#e8232b" stroke="#e8232b">CG</tspan><tspan fill="#111" stroke="#111">CC</tspan><tspan fill="#1f9a3a" stroke="#1f9a3a">ATG</tspan><tspan fill="#111" stroke="#111">GGT</tspan></text>
<line x1="163.40" y1="263.00" x2="163.40" y2="258.60" stroke="#e8232b" stroke-width="0.8"/>
<circle cx="163.40" cy="258.60" r="2.0" fill="#e8232b"/>
<text x="163.40" y="254.50" font-size="4.8" font-weight="bold" font-style="normal" text-anchor="middle" fill="#111" stroke="#111" stroke-width="0.18">1</text>
<line x1="174.35" y1="263.00" x2="174.35" y2="258.60" stroke="#e8232b" stroke-width="0.8"/>
<circle cx="174.35" cy="258.60" r="2.0" fill="#e8232b"/>
<text x="174.35" y="254.50" font-size="4.8" font-weight="bold" font-style="normal" text-anchor="middle" fill="#111" stroke="#111" stroke-width="0.18">2</text>
<line x1="112.30" y1="277.20" x2="112.30" y2="280.70" stroke="#e8232b" stroke-width="0.8"/>
<circle cx="112.30" cy="280.70" r="2.0" fill="#e8232b"/>
<text x="112.30" y="287.70" font-size="4.8" font-weight="bold" font-style="normal" text-anchor="middle" fill="#111" stroke="#111" stroke-width="0.18">3</text>
<line x1="152.45" y1="277.20" x2="152.45" y2="280.70" stroke="#e8232b" stroke-width="0.8"/>
<circle cx="152.45" cy="280.70" r="2.0" fill="#e8232b"/>
<text x="152.45" y="287.70" font-size="4.8" font-weight="bold" font-style="normal" text-anchor="middle" fill="#111" stroke="#111" stroke-width="0.18">4</text>
<line x1="272.90" y1="277.20" x2="272.90" y2="280.70" stroke="#e8232b" stroke-width="0.8"/>
<circle cx="272.90" cy="280.70" r="2.0" fill="#e8232b"/>
<text x="272.90" y="287.70" font-size="4.8" font-weight="bold" font-style="normal" text-anchor="middle" fill="#111" stroke="#111" stroke-width="0.18">5</text>
<path d="M91,307.6 L102,308.8 C150,310 250,318 331,325 L76.3,325 Z" fill="#e6e6e6"/>
<line x1="56.80" y1="299.60" x2="76.80" y2="301.80" stroke="#222" stroke-width="0.8"/>
<line x1="323.50" y1="300.60" x2="342.20" y2="294.80" stroke="#222" stroke-width="0.8"/>
<rect x="153.00" y="295.40" width="65.00" height="12.00" fill="url(#gOrf1)" stroke="#4a2080" stroke-width="0.5" rx="2.8"/>
<text x="186.50" y="303.90" font-size="6.8" font-weight="bold" font-style="normal" text-anchor="middle" fill="#fff">ORF1</text>
<rect x="102.00" y="295.40" width="55.00" height="12.00" fill="url(#gOrf0)" stroke="#5a4880" stroke-width="0.5" rx="2.8"/>
<text x="130.70" y="303.90" font-size="6.8" font-weight="bold" font-style="normal" text-anchor="middle" fill="#fff">ORF0</text>
<rect x="214.60" y="295.40" width="81.00" height="12.00" fill="url(#gOrf2)" stroke="#220c50" stroke-width="0.5" rx="2.8"/>
<text x="256.10" y="303.90" font-size="6.8" font-weight="bold" font-style="normal" text-anchor="middle" fill="#fff">ORF2</text>
<rect x="76.30" y="295.40" width="28.20" height="12.00" fill="url(#gGray)" stroke="#5a5a5a" stroke-width="0.5" rx="2.8"/>
<text x="90.40" y="303.90" font-size="6.6" font-weight="bold" font-style="normal" text-anchor="middle" fill="#fff">5´UTR</text>
<rect x="292.40" y="295.40" width="31.40" height="12.00" fill="url(#gGray)" stroke="#5a5a5a" stroke-width="0.5" rx="2.8"/>
<text x="309.30" y="303.90" font-size="6.6" font-weight="bold" font-style="normal" text-anchor="middle" fill="#fff">3´UTR</text>
<text x="345.60" y="294.70" font-size="7.0" font-weight="bold" font-style="italic" text-anchor="start" fill="#111" stroke="#111" stroke-width="0.25">LINE1</text>
<rect x="76.30" y="324.20" width="255.10" height="18.20" fill="#d3bdf2" stroke="none" stroke-width="0" rx="2.6"/>
<text transform="translate(78.70,331.50) scale(1,0.92)" x="0" y="0" font-size="6.150" font-weight="bold" xml:space="preserve" style="font-family:'Liberation Mono','DejaVu Sans Mono',monospace" textLength="247.23" lengthAdjust="spacing" stroke-width="0.3" stroke-linejoin="round"><tspan fill="#111" stroke="#111">5'AGTGTGTGTG</tspan><tspan fill="#e8232b" stroke="#e8232b">CG</tspan><tspan fill="#111" stroke="#111">CAC</tspan><tspan fill="#e8232b" stroke="#e8232b">CG</tspan><tspan fill="#111" stroke="#111">TG</tspan><tspan fill="#e8232b" stroke="#e8232b">CGCG</tspan><tspan fill="#111" stroke="#111">AGC</tspan><tspan fill="#e8232b" stroke="#e8232b">CG</tspan><tspan fill="#111" stroke="#111">AAGCAGGG</tspan><tspan fill="#e8232b" stroke="#e8232b">CG</tspan><tspan fill="#111" stroke="#111">AGGCATTGCCTCACCTGGGAAG</tspan><tspan fill="#e8232b" stroke="#e8232b">CG</tspan><tspan fill="#111" stroke="#111">CAA</tspan></text>
<text transform="translate(82.40,339.20) scale(1,0.92)" x="0" y="0" font-size="6.150" font-weight="bold" xml:space="preserve" style="font-family:'Liberation Mono','DejaVu Sans Mono',monospace" textLength="250.92" lengthAdjust="spacing" stroke-width="0.3" stroke-linejoin="round"><tspan fill="#111" stroke="#111">GGGGTCAGGGAGTTCCCTTTC</tspan><tspan fill="#e8232b" stroke="#e8232b">CG</tspan><tspan fill="#111" stroke="#111">AGTCAAAGAAAGGGGTGA</tspan><tspan fill="#e8232b" stroke="#e8232b">CG</tspan><tspan fill="#111" stroke="#111">GA</tspan><tspan fill="#e8232b" stroke="#e8232b">CG</tspan><tspan fill="#111" stroke="#111">CACCTGGAAAAT</tspan><tspan fill="#e8232b" stroke="#e8232b">CG</tspan><tspan fill="#111" stroke="#111">GGTC 3'</tspan></text>
<line x1="126.67" y1="324.60" x2="126.67" y2="320.60" stroke="#e8232b" stroke-width="0.8"/>
<circle cx="126.67" cy="320.60" r="2.15" fill="#e8232b"/>
<text x="126.67" y="315.90" font-size="5.0" font-weight="bold" font-style="normal" text-anchor="middle" fill="#111" stroke="#111" stroke-width="0.18">1</text>
<line x1="145.12" y1="324.60" x2="145.12" y2="320.60" stroke="#e8232b" stroke-width="0.8"/>
<circle cx="145.12" cy="320.60" r="2.15" fill="#e8232b"/>
<text x="145.12" y="315.90" font-size="5.0" font-weight="bold" font-style="normal" text-anchor="middle" fill="#111" stroke="#111" stroke-width="0.18">2</text>
<line x1="159.88" y1="324.60" x2="159.88" y2="320.60" stroke="#e8232b" stroke-width="0.8"/>
<circle cx="159.88" cy="320.60" r="2.15" fill="#e8232b"/>
<text x="159.88" y="315.90" font-size="5.0" font-weight="bold" font-style="normal" text-anchor="middle" fill="#111" stroke="#111" stroke-width="0.18">3</text>
<line x1="167.26" y1="324.60" x2="167.26" y2="320.60" stroke="#e8232b" stroke-width="0.8"/>
<circle cx="167.26" cy="320.60" r="2.15" fill="#e8232b"/>
<text x="167.26" y="315.90" font-size="5.0" font-weight="bold" font-style="normal" text-anchor="middle" fill="#111" stroke="#111" stroke-width="0.18">4</text>
<line x1="185.71" y1="324.60" x2="185.71" y2="320.60" stroke="#e8232b" stroke-width="0.8"/>
<circle cx="185.71" cy="320.60" r="2.15" fill="#e8232b"/>
<text x="185.71" y="315.90" font-size="5.0" font-weight="bold" font-style="normal" text-anchor="middle" fill="#111" stroke="#111" stroke-width="0.18">5</text>
<line x1="222.61" y1="324.60" x2="222.61" y2="320.60" stroke="#e8232b" stroke-width="0.8"/>
<circle cx="222.61" cy="320.60" r="2.15" fill="#e8232b"/>
<text x="222.61" y="315.90" font-size="5.0" font-weight="bold" font-style="normal" text-anchor="middle" fill="#111" stroke="#111" stroke-width="0.18">6</text>
<line x1="311.17" y1="324.60" x2="311.17" y2="320.60" stroke="#e8232b" stroke-width="0.8"/>
<circle cx="311.17" cy="320.60" r="2.15" fill="#e8232b"/>
<text x="311.17" y="315.90" font-size="5.0" font-weight="bold" font-style="normal" text-anchor="middle" fill="#111" stroke="#111" stroke-width="0.18">7</text>
<line x1="163.58" y1="342.30" x2="163.58" y2="346.10" stroke="#e8232b" stroke-width="0.8"/>
<circle cx="163.58" cy="346.10" r="2.15" fill="#e8232b"/>
<text x="163.58" y="353.80" font-size="5.0" font-weight="bold" font-style="normal" text-anchor="middle" fill="#111" stroke="#111" stroke-width="0.18">8</text>
<line x1="237.38" y1="342.30" x2="237.38" y2="346.10" stroke="#e8232b" stroke-width="0.8"/>
<circle cx="237.38" cy="346.10" r="2.15" fill="#e8232b"/>
<text x="237.38" y="353.80" font-size="5.0" font-weight="bold" font-style="normal" text-anchor="middle" fill="#111" stroke="#111" stroke-width="0.18">9</text>
<line x1="252.14" y1="342.30" x2="252.14" y2="346.10" stroke="#e8232b" stroke-width="0.8"/>
<circle cx="252.14" cy="346.10" r="2.15" fill="#e8232b"/>
<text x="252.14" y="353.80" font-size="5.0" font-weight="bold" font-style="normal" text-anchor="middle" fill="#111" stroke="#111" stroke-width="0.18">10</text>
<line x1="303.80" y1="342.30" x2="303.80" y2="346.10" stroke="#e8232b" stroke-width="0.8"/>
<circle cx="303.80" cy="346.10" r="2.15" fill="#e8232b"/>
<text x="303.80" y="353.80" font-size="5.0" font-weight="bold" font-style="normal" text-anchor="middle" fill="#111" stroke="#111" stroke-width="0.18">11</text>
</g>
<g id="panelC">
<text x="3.40" y="357.80" font-size="8.5" font-weight="bold" font-style="normal" text-anchor="start" fill="#000" stroke="#000" stroke-width="0.3">(C)</text>
<text x="59.70" y="364.70" font-size="6.6" font-weight="bold" font-style="italic" text-anchor="start" fill="#111" stroke="#111" stroke-width="0.22">LINE1</text>
<rect x="59.70" y="367.40" width="12.55" height="9.95" fill="#C14C9B" stroke="none" stroke-width="0" rx="0"/>
<rect x="72.20" y="367.40" width="12.55" height="9.95" fill="#E060A5" stroke="none" stroke-width="0" rx="0"/>
<rect x="84.70" y="367.40" width="12.55" height="9.95" fill="#D255A0" stroke="none" stroke-width="0" rx="0"/>
<rect x="97.20" y="367.40" width="12.55" height="9.95" fill="#A03890" stroke="none" stroke-width="0" rx="0"/>
<rect x="109.70" y="367.40" width="12.55" height="9.95" fill="#5A1A78" stroke="none" stroke-width="0" rx="0"/>
<rect x="122.20" y="367.40" width="12.55" height="9.95" fill="#E060A5" stroke="none" stroke-width="0" rx="0"/>
<rect x="134.70" y="367.40" width="12.55" height="9.95" fill="#B04595" stroke="none" stroke-width="0" rx="0"/>
<rect x="147.20" y="367.40" width="12.55" height="9.95" fill="#A03C90" stroke="none" stroke-width="0" rx="0"/>
<rect x="159.70" y="367.40" width="12.55" height="9.95" fill="#C04C9A" stroke="none" stroke-width="0" rx="0"/>
<rect x="172.20" y="367.40" width="12.55" height="9.95" fill="#B84896" stroke="none" stroke-width="0" rx="0"/>
<rect x="184.70" y="367.40" width="12.55" height="9.95" fill="#C04C9A" stroke="none" stroke-width="0" rx="0"/>
<rect x="197.20" y="367.40" width="12.55" height="9.95" fill="#B44696" stroke="none" stroke-width="0" rx="0"/>
<rect x="59.70" y="377.30" width="12.55" height="9.95" fill="#D859A3" stroke="none" stroke-width="0" rx="0"/>
<rect x="72.20" y="377.30" width="12.55" height="9.95" fill="#F56AA8" stroke="none" stroke-width="0" rx="0"/>
<rect x="84.70" y="377.30" width="12.55" height="9.95" fill="#DC5AA3" stroke="none" stroke-width="0" rx="0"/>
<rect x="97.20" y="377.30" width="12.55" height="9.95" fill="#8E3088" stroke="none" stroke-width="0" rx="0"/>
<rect x="109.70" y="377.30" width="12.55" height="9.95" fill="#4A0F70" stroke="none" stroke-width="0" rx="0"/>
<rect x="122.20" y="377.30" width="12.55" height="9.95" fill="#7A2882" stroke="none" stroke-width="0" rx="0"/>
<rect x="134.70" y="377.30" width="12.55" height="9.95" fill="#A03C90" stroke="none" stroke-width="0" rx="0"/>
<rect x="147.20" y="377.30" width="12.55" height="9.95" fill="#A03C90" stroke="none" stroke-width="0" rx="0"/>
<rect x="159.70" y="377.30" width="12.55" height="9.95" fill="#C04C9A" stroke="none" stroke-width="0" rx="0"/>
<rect x="172.20" y="377.30" width="12.55" height="9.95" fill="#B84896" stroke="none" stroke-width="0" rx="0"/>
<rect x="184.70" y="377.30" width="12.55" height="9.95" fill="#C8509C" stroke="none" stroke-width="0" rx="0"/>
<rect x="197.20" y="377.30" width="12.55" height="9.95" fill="#B04595" stroke="none" stroke-width="0" rx="0"/>
<rect x="59.70" y="387.20" width="12.55" height="9.95" fill="#DC5AA3" stroke="none" stroke-width="0" rx="0"/>
<rect x="72.20" y="387.20" width="12.55" height="9.95" fill="#F56AA8" stroke="none" stroke-width="0" rx="0"/>
<rect x="84.70" y="387.20" width="12.55" height="9.95" fill="#D859A3" stroke="none" stroke-width="0" rx="0"/>
<rect x="97.20" y="387.20" width="12.55" height="9.95" fill="#9A3690" stroke="none" stroke-width="0" rx="0"/>
<rect x="109.70" y="387.20" width="12.55" height="9.95" fill="#4E1272" stroke="none" stroke-width="0" rx="0"/>
<rect x="122.20" y="387.20" width="12.55" height="9.95" fill="#86308A" stroke="none" stroke-width="0" rx="0"/>
<rect x="134.70" y="387.20" width="12.55" height="9.95" fill="#A03C90" stroke="none" stroke-width="0" rx="0"/>
<rect x="147.20" y="387.20" width="12.55" height="9.95" fill="#A03C90" stroke="none" stroke-width="0" rx="0"/>
<rect x="159.70" y="387.20" width="12.55" height="9.95" fill="#C04C9A" stroke="none" stroke-width="0" rx="0"/>
<rect x="172.20" y="387.20" width="12.55" height="9.95" fill="#BC4A98" stroke="none" stroke-width="0" rx="0"/>
<rect x="184.70" y="387.20" width="12.55" height="9.95" fill="#C8509C" stroke="none" stroke-width="0" rx="0"/>
<rect x="197.20" y="387.20" width="12.55" height="9.95" fill="#B04595" stroke="none" stroke-width="0" rx="0"/>
<rect x="59.70" y="397.10" width="12.55" height="9.95" fill="#DC5AA3" stroke="none" stroke-width="0" rx="0"/>
<rect x="72.20" y="397.10" width="12.55" height="9.95" fill="#F86CA8" stroke="none" stroke-width="0" rx="0"/>
<rect x="84.70" y="397.10" width="12.55" height="9.95" fill="#B84896" stroke="none" stroke-width="0" rx="0"/>
<rect x="97.20" y="397.10" width="12.55" height="9.95" fill="#7C2A84" stroke="none" stroke-width="0" rx="0"/>
<rect x="109.70" y="397.10" width="12.55" height="9.95" fill="#46106E" stroke="none" stroke-width="0" rx="0"/>
<rect x="122.20" y="397.10" width="12.55" height="9.95" fill="#4A0F70" stroke="none" stroke-width="0" rx="0"/>
<rect x="134.70" y="397.10" width="12.55" height="9.95" fill="#862E88" stroke="none" stroke-width="0" rx="0"/>
<rect x="147.20" y="397.10" width="12.55" height="9.95" fill="#7A2882" stroke="none" stroke-width="0" rx="0"/>
<rect x="159.70" y="397.10" width="12.55" height="9.95" fill="#C04C9A" stroke="none" stroke-width="0" rx="0"/>
<rect x="172.20" y="397.10" width="12.55" height="9.95" fill="#B04595" stroke="none" stroke-width="0" rx="0"/>
<rect x="184.70" y="397.10" width="12.55" height="9.95" fill="#C04C9A" stroke="none" stroke-width="0" rx="0"/>
<rect x="197.20" y="397.10" width="12.55" height="9.95" fill="#A84092" stroke="none" stroke-width="0" rx="0"/>
<rect x="59.70" y="407.00" width="12.55" height="9.95" fill="#DC5AA3" stroke="none" stroke-width="0" rx="0"/>
<rect x="72.20" y="407.00" width="12.55" height="9.95" fill="#FC70AA" stroke="none" stroke-width="0" rx="0"/>
<rect x="84.70" y="407.00" width="12.55" height="9.95" fill="#D859A3" stroke="none" stroke-width="0" rx="0"/>
<rect x="97.20" y="407.00" width="12.55" height="9.95" fill="#9A3690" stroke="none" stroke-width="0" rx="0"/>
<rect x="109.70" y="407.00" width="12.55" height="9.95" fill="#4A0F70" stroke="none" stroke-width="0" rx="0"/>
<rect x="122.20" y="407.00" width="12.55" height="9.95" fill="#86308A" stroke="none" stroke-width="0" rx="0"/>
<rect x="134.70" y="407.00" width="12.55" height="9.95" fill="#B04595" stroke="none" stroke-width="0" rx="0"/>
<rect x="147.20" y="407.00" width="12.55" height="9.95" fill="#A84092" stroke="none" stroke-width="0" rx="0"/>
<rect x="159.70" y="407.00" width="12.55" height="9.95" fill="#C8509C" stroke="none" stroke-width="0" rx="0"/>
<rect x="172.20" y="407.00" width="12.55" height="9.95" fill="#C04C9A" stroke="none" stroke-width="0" rx="0"/>
<rect x="184.70" y="407.00" width="12.55" height="9.95" fill="#C8509C" stroke="none" stroke-width="0" rx="0"/>
<rect x="197.20" y="407.00" width="12.55" height="9.95" fill="#B44696" stroke="none" stroke-width="0" rx="0"/>
<rect x="59.70" y="416.90" width="12.55" height="9.95" fill="#D053A0" stroke="none" stroke-width="0" rx="0"/>
<rect x="72.20" y="416.90" width="12.55" height="9.95" fill="#F062A6" stroke="none" stroke-width="0" rx="0"/>
<rect x="84.70" y="416.90" width="12.55" height="9.95" fill="#B44695" stroke="none" stroke-width="0" rx="0"/>
<rect x="97.20" y="416.90" width="12.55" height="9.95" fill="#8E3088" stroke="none" stroke-width="0" rx="0"/>
<rect x="109.70" y="416.90" width="12.55" height="9.95" fill="#5A1A78" stroke="none" stroke-width="0" rx="0"/>
<rect x="122.20" y="416.90" width="12.55" height="9.95" fill="#8A308A" stroke="none" stroke-width="0" rx="0"/>
<rect x="134.70" y="416.90" width="12.55" height="9.95" fill="#B04595" stroke="none" stroke-width="0" rx="0"/>
<rect x="147.20" y="416.90" width="12.55" height="9.95" fill="#A03C90" stroke="none" stroke-width="0" rx="0"/>
<rect x="159.70" y="416.90" width="12.55" height="9.95" fill="#C8509C" stroke="none" stroke-width="0" rx="0"/>
<rect x="172.20" y="416.90" width="12.55" height="9.95" fill="#B84896" stroke="none" stroke-width="0" rx="0"/>
<rect x="184.70" y="416.90" width="12.55" height="9.95" fill="#C8509C" stroke="none" stroke-width="0" rx="0"/>
<rect x="197.20" y="416.90" width="12.55" height="9.95" fill="#B04595" stroke="none" stroke-width="0" rx="0"/>
<path d="M59.70,367.40V426.80M72.20,367.40V426.80M84.70,367.40V426.80M97.20,367.40V426.80M109.70,367.40V426.80M122.20,367.40V426.80M134.70,367.40V426.80M147.20,367.40V426.80M159.70,367.40V426.80M172.20,367.40V426.80M184.70,367.40V426.80M197.20,367.40V426.80M209.70,367.40V426.80M59.70,367.40H209.70M59.70,377.30H209.70M59.70,387.20H209.70M59.70,397.10H209.70M59.70,407.00H209.70M59.70,416.90H209.70M59.70,426.80H209.70" stroke="#0a0a0a" stroke-width="0.9" fill="none" stroke-linecap="square"/>
<line x1="56.50" y1="372.35" x2="59.70" y2="372.35" stroke="#000" stroke-width="0.7"/>
<text x="54.70" y="373.97" font-size="4.5" font-weight="bold" font-style="normal" text-anchor="end" fill="#111" stroke="#111" stroke-width="0.12">UT</text>
<line x1="56.50" y1="382.25" x2="59.70" y2="382.25" stroke="#000" stroke-width="0.7"/>
<text x="54.70" y="383.87" font-size="4.5" font-weight="bold" font-style="normal" text-anchor="end" fill="#111" stroke="#111" stroke-width="0.12">UT + hemin/EPO</text>
<line x1="56.50" y1="392.15" x2="59.70" y2="392.15" stroke="#000" stroke-width="0.7"/>
<text x="54.70" y="393.77" font-size="4.5" font-weight="bold" font-style="normal" text-anchor="end" fill="#111" stroke="#111" stroke-width="0.12">LRF-OE</text>
<line x1="56.50" y1="402.05" x2="59.70" y2="402.05" stroke="#000" stroke-width="0.7"/>
<text x="54.70" y="403.67" font-size="4.5" font-weight="bold" font-style="normal" text-anchor="end" fill="#111" stroke="#111" stroke-width="0.12">LRF-OE + hemin/EPO</text>
<line x1="56.50" y1="411.95" x2="59.70" y2="411.95" stroke="#000" stroke-width="0.7"/>
<text x="54.70" y="413.57" font-size="4.5" font-weight="bold" font-style="normal" text-anchor="end" fill="#111" stroke="#111" stroke-width="0.12">DNMT3-OE</text>
<line x1="56.50" y1="421.85" x2="59.70" y2="421.85" stroke="#000" stroke-width="0.7"/>
<text x="54.70" y="423.47" font-size="4.5" font-weight="bold" font-style="italic" text-anchor="end" fill="#111" stroke="#111" stroke-width="0.12">ZBTB7A-KD</text>
<line x1="65.95" y1="426.80" x2="65.95" y2="428.80" stroke="#000" stroke-width="0.7"/>
<text transform="translate(64.95,433.00) rotate(-45)" font-size="4.7" font-weight="bold" text-anchor="middle" fill="#111" stroke="#111" stroke-width="0.22" dy="1.65">1</text>
<line x1="78.45" y1="426.80" x2="78.45" y2="428.80" stroke="#000" stroke-width="0.7"/>
<text transform="translate(77.45,433.00) rotate(-45)" font-size="4.7" font-weight="bold" text-anchor="middle" fill="#111" stroke="#111" stroke-width="0.22" dy="1.65">2</text>
<line x1="90.95" y1="426.80" x2="90.95" y2="428.80" stroke="#000" stroke-width="0.7"/>
<text transform="translate(89.95,433.00) rotate(-45)" font-size="4.7" font-weight="bold" text-anchor="middle" fill="#111" stroke="#111" stroke-width="0.22" dy="1.65">3</text>
<line x1="103.45" y1="426.80" x2="103.45" y2="428.80" stroke="#000" stroke-width="0.7"/>
<text transform="translate(102.45,433.00) rotate(-45)" font-size="4.7" font-weight="bold" text-anchor="middle" fill="#111" stroke="#111" stroke-width="0.22" dy="1.65">4</text>
<line x1="115.95" y1="426.80" x2="115.95" y2="428.80" stroke="#000" stroke-width="0.7"/>
<text transform="translate(114.95,433.00) rotate(-45)" font-size="4.7" font-weight="bold" text-anchor="middle" fill="#111" stroke="#111" stroke-width="0.22" dy="1.65">5</text>
<line x1="128.45" y1="426.80" x2="128.45" y2="428.80" stroke="#000" stroke-width="0.7"/>
<text transform="translate(127.45,433.00) rotate(-45)" font-size="4.7" font-weight="bold" text-anchor="middle" fill="#111" stroke="#111" stroke-width="0.22" dy="1.65">6</text>
<line x1="140.95" y1="426.80" x2="140.95" y2="428.80" stroke="#000" stroke-width="0.7"/>
<text transform="translate(139.95,433.00) rotate(-45)" font-size="4.7" font-weight="bold" text-anchor="middle" fill="#111" stroke="#111" stroke-width="0.22" dy="1.65">7</text>
<line x1="153.45" y1="426.80" x2="153.45" y2="428.80" stroke="#000" stroke-width="0.7"/>
<text transform="translate(152.45,433.00) rotate(-45)" font-size="4.7" font-weight="bold" text-anchor="middle" fill="#111" stroke="#111" stroke-width="0.22" dy="1.65">8</text>
<line x1="165.95" y1="426.80" x2="165.95" y2="428.80" stroke="#000" stroke-width="0.7"/>
<text transform="translate(164.95,433.00) rotate(-45)" font-size="4.7" font-weight="bold" text-anchor="middle" fill="#111" stroke="#111" stroke-width="0.22" dy="1.65">9</text>
<line x1="178.45" y1="426.80" x2="178.45" y2="428.80" stroke="#000" stroke-width="0.7"/>
<text transform="translate(177.45,433.00) rotate(-45)" font-size="4.7" font-weight="bold" text-anchor="middle" fill="#111" stroke="#111" stroke-width="0.22" dy="1.65">10</text>
<line x1="190.95" y1="426.80" x2="190.95" y2="428.80" stroke="#000" stroke-width="0.7"/>
<text transform="translate(189.95,433.00) rotate(-45)" font-size="4.7" font-weight="bold" text-anchor="middle" fill="#111" stroke="#111" stroke-width="0.22" dy="1.65">11</text>
<line x1="203.45" y1="426.80" x2="203.45" y2="428.80" stroke="#000" stroke-width="0.7"/>
<g transform="translate(202.85,430.00) rotate(-45)"><text x="0" y="2.22" font-size="4.04" font-weight="bold" text-anchor="end" fill="#111" stroke="#111" stroke-width="0.2">CpG</text><text x="-1" y="5.66" font-size="4.04" font-weight="bold" text-anchor="end" fill="#111" stroke="#111" stroke-width="0.2">area</text></g>
<rect x="216.20" y="367.40" width="3.90" height="59.40" fill="url(#cbLine)" stroke="#0a0a0a" stroke-width="0.7" rx="0"/>
<line x1="218.50" y1="379.80" x2="220.10" y2="379.80" stroke="#000" stroke-width="0.6"/>
<text x="221.90" y="381.67" font-size="5.2" font-weight="normal" font-style="normal" text-anchor="start" fill="#111">30</text>
<line x1="218.50" y1="398.30" x2="220.10" y2="398.30" stroke="#000" stroke-width="0.6"/>
<text x="221.90" y="400.17" font-size="5.2" font-weight="normal" font-style="normal" text-anchor="start" fill="#111">20</text>
<line x1="218.50" y1="416.90" x2="220.10" y2="416.90" stroke="#000" stroke-width="0.6"/>
<text x="221.90" y="418.77" font-size="5.2" font-weight="normal" font-style="normal" text-anchor="start" fill="#111">10</text>
<text x="268.60" y="364.60" font-size="7.1" font-weight="bold" font-style="italic" text-anchor="start" fill="#111" stroke="#111" stroke-width="0.22">HBG2</text>
<rect x="266.60" y="367.40" width="18.87" height="20.05" fill="#4CC84C" stroke="none" stroke-width="0" rx="0"/>
<rect x="285.42" y="367.40" width="18.87" height="20.05" fill="#8CF58C" stroke="none" stroke-width="0" rx="0"/>
<rect x="304.24" y="367.40" width="18.87" height="20.05" fill="#0E8C0E" stroke="none" stroke-width="0" rx="0"/>
<rect x="323.06" y="367.40" width="18.87" height="20.05" fill="#8CF58C" stroke="none" stroke-width="0" rx="0"/>
<rect x="341.88" y="367.40" width="18.87" height="20.05" fill="#74E474" stroke="none" stroke-width="0" rx="0"/>
<rect x="360.70" y="367.40" width="18.87" height="20.05" fill="#5CD45C" stroke="none" stroke-width="0" rx="0"/>
<rect x="266.60" y="387.40" width="18.87" height="20.05" fill="#74E474" stroke="none" stroke-width="0" rx="0"/>
<rect x="285.42" y="387.40" width="18.87" height="20.05" fill="#8CF58C" stroke="none" stroke-width="0" rx="0"/>
<rect x="304.24" y="387.40" width="18.87" height="20.05" fill="#54CC54" stroke="none" stroke-width="0" rx="0"/>
<rect x="323.06" y="387.40" width="18.87" height="20.05" fill="#84F084" stroke="none" stroke-width="0" rx="0"/>
<rect x="341.88" y="387.40" width="18.87" height="20.05" fill="#7CE87C" stroke="none" stroke-width="0" rx="0"/>
<rect x="360.70" y="387.40" width="18.87" height="20.05" fill="#74E474" stroke="none" stroke-width="0" rx="0"/>
<rect x="266.60" y="407.40" width="18.87" height="20.05" fill="#6CDC6C" stroke="none" stroke-width="0" rx="0"/>
<rect x="285.42" y="407.40" width="18.87" height="20.05" fill="#8CF58C" stroke="none" stroke-width="0" rx="0"/>
<rect x="304.24" y="407.40" width="18.87" height="20.05" fill="#34B034" stroke="none" stroke-width="0" rx="0"/>
<rect x="323.06" y="407.40" width="18.87" height="20.05" fill="#84F084" stroke="none" stroke-width="0" rx="0"/>
<rect x="341.88" y="407.40" width="18.87" height="20.05" fill="#7CE87C" stroke="none" stroke-width="0" rx="0"/>
<rect x="360.70" y="407.40" width="18.87" height="20.05" fill="#74E474" stroke="none" stroke-width="0" rx="0"/>
<path d="M266.60,367.40V427.40M285.42,367.40V427.40M304.24,367.40V427.40M323.06,367.40V427.40M341.88,367.40V427.40M360.70,367.40V427.40M379.52,367.40V427.40M266.60,367.40H379.52M266.60,387.40H379.52M266.60,407.40H379.52M266.60,427.40H379.52" stroke="#0a0a0a" stroke-width="1.0" fill="none" stroke-linecap="square"/>
<line x1="263.60" y1="377.40" x2="266.60" y2="377.40" stroke="#000" stroke-width="0.7"/>
<text x="262.80" y="379.34" font-size="5.4" font-weight="bold" font-style="normal" text-anchor="end" fill="#111" stroke="#111" stroke-width="0.2">UT</text>
<line x1="263.60" y1="397.40" x2="266.60" y2="397.40" stroke="#000" stroke-width="0.7"/>
<text x="262.80" y="399.34" font-size="5.4" font-weight="bold" font-style="normal" text-anchor="end" fill="#111" stroke="#111" stroke-width="0.2">DNMT3 · OE</text>
<line x1="263.60" y1="417.40" x2="266.60" y2="417.40" stroke="#000" stroke-width="0.7"/>
<text x="262.80" y="419.34" font-size="5.4" font-weight="bold" font-style="normal" text-anchor="end" fill="#111" stroke="#111" stroke-width="0.2">HDAC1- OE</text>
<line x1="276.01" y1="427.40" x2="276.01" y2="429.40" stroke="#000" stroke-width="0.7"/>
<text transform="translate(275.01,434.60) rotate(-45)" font-size="6.2" font-weight="bold" text-anchor="middle" fill="#111" stroke="#111" stroke-width="0.22" dy="2.17">1</text>
<line x1="294.83" y1="427.40" x2="294.83" y2="429.40" stroke="#000" stroke-width="0.7"/>
<text transform="translate(293.83,434.60) rotate(-45)" font-size="6.2" font-weight="bold" text-anchor="middle" fill="#111" stroke="#111" stroke-width="0.22" dy="2.17">2</text>
<line x1="313.65" y1="427.40" x2="313.65" y2="429.40" stroke="#000" stroke-width="0.7"/>
<text transform="translate(312.65,434.60) rotate(-45)" font-size="6.2" font-weight="bold" text-anchor="middle" fill="#111" stroke="#111" stroke-width="0.22" dy="2.17">3</text>
<line x1="332.47" y1="427.40" x2="332.47" y2="429.40" stroke="#000" stroke-width="0.7"/>
<text transform="translate(331.47,434.60) rotate(-45)" font-size="6.2" font-weight="bold" text-anchor="middle" fill="#111" stroke="#111" stroke-width="0.22" dy="2.17">4</text>
<line x1="351.29" y1="427.40" x2="351.29" y2="429.40" stroke="#000" stroke-width="0.7"/>
<text transform="translate(350.29,434.60) rotate(-45)" font-size="6.2" font-weight="bold" text-anchor="middle" fill="#111" stroke="#111" stroke-width="0.22" dy="2.17">5</text>
<line x1="370.11" y1="427.40" x2="370.11" y2="429.40" stroke="#000" stroke-width="0.7"/>
<g transform="translate(369.51,430.60) rotate(-45)"><text x="0" y="2.93" font-size="5.33" font-weight="bold" text-anchor="end" fill="#111" stroke="#111" stroke-width="0.2">CpG</text><text x="-1" y="7.46" font-size="5.33" font-weight="bold" text-anchor="end" fill="#111" stroke="#111" stroke-width="0.2">area</text></g>
<rect x="387.30" y="367.40" width="5.60" height="60.00" fill="url(#cbHbg)" stroke="#0a0a0a" stroke-width="0.7" rx="0"/>
<line x1="391.30" y1="380.30" x2="392.90" y2="380.30" stroke="#000" stroke-width="0.6"/>
<text x="395.40" y="382.32" font-size="5.6" font-weight="normal" font-style="normal" text-anchor="start" fill="#111">30</text>
<line x1="391.30" y1="397.00" x2="392.90" y2="397.00" stroke="#000" stroke-width="0.6"/>
<text x="395.40" y="399.02" font-size="5.6" font-weight="normal" font-style="normal" text-anchor="start" fill="#111">20</text>
<line x1="391.30" y1="413.60" x2="392.90" y2="413.60" stroke="#000" stroke-width="0.6"/>
<text x="395.40" y="415.62" font-size="5.6" font-weight="normal" font-style="normal" text-anchor="start" fill="#111">10</text>
<text x="118.3" y="451.9" font-size="6.8" font-weight="bold" fill="#111" stroke="#111" stroke-width="0.25" textLength="43" lengthAdjust="spacingAndGlyphs">LRF/<tspan font-style="italic">ZBTB7A</tspan></text>
<rect x="118.10" y="455.00" width="9.36" height="10.65" fill="#7C7C48" stroke="none" stroke-width="0" rx="0"/>
<rect x="127.41" y="455.00" width="9.36" height="10.65" fill="#A8A830" stroke="none" stroke-width="0" rx="0"/>
<rect x="136.72" y="455.00" width="9.36" height="10.65" fill="#FFFF18" stroke="none" stroke-width="0" rx="0"/>
<rect x="146.03" y="455.00" width="9.36" height="10.65" fill="#FFFF18" stroke="none" stroke-width="0" rx="0"/>
<rect x="155.34" y="455.00" width="9.36" height="10.65" fill="#B8B830" stroke="none" stroke-width="0" rx="0"/>
<rect x="164.65" y="455.00" width="9.36" height="10.65" fill="#FFFF18" stroke="none" stroke-width="0" rx="0"/>
<rect x="173.96" y="455.00" width="9.36" height="10.65" fill="#FFFF18" stroke="none" stroke-width="0" rx="0"/>
<rect x="183.27" y="455.00" width="9.36" height="10.65" fill="#FFFF18" stroke="none" stroke-width="0" rx="0"/>
<rect x="192.58" y="455.00" width="9.36" height="10.65" fill="#FFFF18" stroke="none" stroke-width="0" rx="0"/>
<rect x="201.89" y="455.00" width="9.36" height="10.65" fill="#FFFF18" stroke="none" stroke-width="0" rx="0"/>
<rect x="211.20" y="455.00" width="9.36" height="10.65" fill="#D0D028" stroke="none" stroke-width="0" rx="0"/>
<rect x="220.51" y="455.00" width="9.36" height="10.65" fill="#F8F818" stroke="none" stroke-width="0" rx="0"/>
<rect x="229.82" y="455.00" width="9.36" height="10.65" fill="#FFFF18" stroke="none" stroke-width="0" rx="0"/>
<rect x="239.13" y="455.00" width="9.36" height="10.65" fill="#FFFF18" stroke="none" stroke-width="0" rx="0"/>
<rect x="248.44" y="455.00" width="9.36" height="10.65" fill="#C8C828" stroke="none" stroke-width="0" rx="0"/>
<rect x="257.75" y="455.00" width="9.36" height="10.65" fill="#FFFF18" stroke="none" stroke-width="0" rx="0"/>
<rect x="267.06" y="455.00" width="9.36" height="10.65" fill="#FFFF18" stroke="none" stroke-width="0" rx="0"/>
<rect x="276.37" y="455.00" width="9.36" height="10.65" fill="#FFFF18" stroke="none" stroke-width="0" rx="0"/>
<rect x="285.68" y="455.00" width="9.36" height="10.65" fill="#D0D028" stroke="none" stroke-width="0" rx="0"/>
<rect x="294.99" y="455.00" width="9.36" height="10.65" fill="#FFFF18" stroke="none" stroke-width="0" rx="0"/>
<rect x="304.30" y="455.00" width="9.36" height="10.65" fill="#FFFF18" stroke="none" stroke-width="0" rx="0"/>
<rect x="313.61" y="455.00" width="9.36" height="10.65" fill="#D8D820" stroke="none" stroke-width="0" rx="0"/>
<rect x="322.92" y="455.00" width="9.36" height="10.65" fill="#F0F020" stroke="none" stroke-width="0" rx="0"/>
<rect x="118.10" y="465.60" width="9.36" height="10.65" fill="#8C8C40" stroke="none" stroke-width="0" rx="0"/>
<rect x="127.41" y="465.60" width="9.36" height="10.65" fill="#B8B828" stroke="none" stroke-width="0" rx="0"/>
<rect x="136.72" y="465.60" width="9.36" height="10.65" fill="#FFFF18" stroke="none" stroke-width="0" rx="0"/>
<rect x="146.03" y="465.60" width="9.36" height="10.65" fill="#FFFF18" stroke="none" stroke-width="0" rx="0"/>
<rect x="155.34" y="465.60" width="9.36" height="10.65" fill="#D8D820" stroke="none" stroke-width="0" rx="0"/>
<rect x="164.65" y="465.60" width="9.36" height="10.65" fill="#FFFF18" stroke="none" stroke-width="0" rx="0"/>
<rect x="173.96" y="465.60" width="9.36" height="10.65" fill="#FFFF18" stroke="none" stroke-width="0" rx="0"/>
<rect x="183.27" y="465.60" width="9.36" height="10.65" fill="#FFFF18" stroke="none" stroke-width="0" rx="0"/>
<rect x="192.58" y="465.60" width="9.36" height="10.65" fill="#FFFF18" stroke="none" stroke-width="0" rx="0"/>
<rect x="201.89" y="465.60" width="9.36" height="10.65" fill="#FFFF18" stroke="none" stroke-width="0" rx="0"/>
<rect x="211.20" y="465.60" width="9.36" height="10.65" fill="#D8D820" stroke="none" stroke-width="0" rx="0"/>
<rect x="220.51" y="465.60" width="9.36" height="10.65" fill="#FFFF18" stroke="none" stroke-width="0" rx="0"/>
<rect x="229.82" y="465.60" width="9.36" height="10.65" fill="#FFFF18" stroke="none" stroke-width="0" rx="0"/>
<rect x="239.13" y="465.60" width="9.36" height="10.65" fill="#FFFF18" stroke="none" stroke-width="0" rx="0"/>
<rect x="248.44" y="465.60" width="9.36" height="10.65" fill="#E0E020" stroke="none" stroke-width="0" rx="0"/>
<rect x="257.75" y="465.60" width="9.36" height="10.65" fill="#FFFF18" stroke="none" stroke-width="0" rx="0"/>
<rect x="267.06" y="465.60" width="9.36" height="10.65" fill="#FFFF18" stroke="none" stroke-width="0" rx="0"/>
<rect x="276.37" y="465.60" width="9.36" height="10.65" fill="#FFFF18" stroke="none" stroke-width="0" rx="0"/>
<rect x="285.68" y="465.60" width="9.36" height="10.65" fill="#E8E820" stroke="none" stroke-width="0" rx="0"/>
<rect x="294.99" y="465.60" width="9.36" height="10.65" fill="#FFFF18" stroke="none" stroke-width="0" rx="0"/>
<rect x="304.30" y="465.60" width="9.36" height="10.65" fill="#FFFF18" stroke="none" stroke-width="0" rx="0"/>
<rect x="313.61" y="465.60" width="9.36" height="10.65" fill="#E0E020" stroke="none" stroke-width="0" rx="0"/>
<rect x="322.92" y="465.60" width="9.36" height="10.65" fill="#F0F020" stroke="none" stroke-width="0" rx="0"/>
<rect x="118.10" y="476.20" width="9.36" height="10.65" fill="#707058" stroke="none" stroke-width="0" rx="0"/>
<rect x="127.41" y="476.20" width="9.36" height="10.65" fill="#A8A830" stroke="none" stroke-width="0" rx="0"/>
<rect x="136.72" y="476.20" width="9.36" height="10.65" fill="#FFFF18" stroke="none" stroke-width="0" rx="0"/>
<rect x="146.03" y="476.20" width="9.36" height="10.65" fill="#FFFF18" stroke="none" stroke-width="0" rx="0"/>
<rect x="155.34" y="476.20" width="9.36" height="10.65" fill="#C0C028" stroke="none" stroke-width="0" rx="0"/>
<rect x="164.65" y="476.20" width="9.36" height="10.65" fill="#FFFF18" stroke="none" stroke-width="0" rx="0"/>
<rect x="173.96" y="476.20" width="9.36" height="10.65" fill="#FFFF18" stroke="none" stroke-width="0" rx="0"/>
<rect x="183.27" y="476.20" width="9.36" height="10.65" fill="#FFFF18" stroke="none" stroke-width="0" rx="0"/>
<rect x="192.58" y="476.20" width="9.36" height="10.65" fill="#FFFF18" stroke="none" stroke-width="0" rx="0"/>
<rect x="201.89" y="476.20" width="9.36" height="10.65" fill="#FFFF18" stroke="none" stroke-width="0" rx="0"/>
<rect x="211.20" y="476.20" width="9.36" height="10.65" fill="#D0D028" stroke="none" stroke-width="0" rx="0"/>
<rect x="220.51" y="476.20" width="9.36" height="10.65" fill="#FFFF18" stroke="none" stroke-width="0" rx="0"/>
<rect x="229.82" y="476.20" width="9.36" height="10.65" fill="#FFFF18" stroke="none" stroke-width="0" rx="0"/>
<rect x="239.13" y="476.20" width="9.36" height="10.65" fill="#FFFF18" stroke="none" stroke-width="0" rx="0"/>
<rect x="248.44" y="476.20" width="9.36" height="10.65" fill="#D8D820" stroke="none" stroke-width="0" rx="0"/>
<rect x="257.75" y="476.20" width="9.36" height="10.65" fill="#FFFF18" stroke="none" stroke-width="0" rx="0"/>
<rect x="267.06" y="476.20" width="9.36" height="10.65" fill="#FFFF18" stroke="none" stroke-width="0" rx="0"/>
<rect x="276.37" y="476.20" width="9.36" height="10.65" fill="#FFFF18" stroke="none" stroke-width="0" rx="0"/>
<rect x="285.68" y="476.20" width="9.36" height="10.65" fill="#E8E820" stroke="none" stroke-width="0" rx="0"/>
<rect x="294.99" y="476.20" width="9.36" height="10.65" fill="#FFFF18" stroke="none" stroke-width="0" rx="0"/>
<rect x="304.30" y="476.20" width="9.36" height="10.65" fill="#FFFF18" stroke="none" stroke-width="0" rx="0"/>
<rect x="313.61" y="476.20" width="9.36" height="10.65" fill="#E0E020" stroke="none" stroke-width="0" rx="0"/>
<rect x="322.92" y="476.20" width="9.36" height="10.65" fill="#F0F020" stroke="none" stroke-width="0" rx="0"/>
<rect x="118.10" y="486.80" width="9.36" height="10.65" fill="#07079A" stroke="none" stroke-width="0" rx="0"/>
<rect x="127.41" y="486.80" width="9.36" height="10.65" fill="#505088" stroke="none" stroke-width="0" rx="0"/>
<rect x="136.72" y="486.80" width="9.36" height="10.65" fill="#F0F020" stroke="none" stroke-width="0" rx="0"/>
<rect x="146.03" y="486.80" width="9.36" height="10.65" fill="#E0E020" stroke="none" stroke-width="0" rx="0"/>
<rect x="155.34" y="486.80" width="9.36" height="10.65" fill="#787850" stroke="none" stroke-width="0" rx="0"/>
<rect x="164.65" y="486.80" width="9.36" height="10.65" fill="#E8E820" stroke="none" stroke-width="0" rx="0"/>
<rect x="173.96" y="486.80" width="9.36" height="10.65" fill="#F0F020" stroke="none" stroke-width="0" rx="0"/>
<rect x="183.27" y="486.80" width="9.36" height="10.65" fill="#FFFF18" stroke="none" stroke-width="0" rx="0"/>
<rect x="192.58" y="486.80" width="9.36" height="10.65" fill="#FFFF18" stroke="none" stroke-width="0" rx="0"/>
<rect x="201.89" y="486.80" width="9.36" height="10.65" fill="#FFFF18" stroke="none" stroke-width="0" rx="0"/>
<rect x="211.20" y="486.80" width="9.36" height="10.65" fill="#808048" stroke="none" stroke-width="0" rx="0"/>
<rect x="220.51" y="486.80" width="9.36" height="10.65" fill="#E8E820" stroke="none" stroke-width="0" rx="0"/>
<rect x="229.82" y="486.80" width="9.36" height="10.65" fill="#F0F020" stroke="none" stroke-width="0" rx="0"/>
<rect x="239.13" y="486.80" width="9.36" height="10.65" fill="#E8E820" stroke="none" stroke-width="0" rx="0"/>
<rect x="248.44" y="486.80" width="9.36" height="10.65" fill="#707058" stroke="none" stroke-width="0" rx="0"/>
<rect x="257.75" y="486.80" width="9.36" height="10.65" fill="#E8E820" stroke="none" stroke-width="0" rx="0"/>
<rect x="267.06" y="486.80" width="9.36" height="10.65" fill="#FFFF18" stroke="none" stroke-width="0" rx="0"/>
<rect x="276.37" y="486.80" width="9.36" height="10.65" fill="#FFFF18" stroke="none" stroke-width="0" rx="0"/>
<rect x="285.68" y="486.80" width="9.36" height="10.65" fill="#505070" stroke="none" stroke-width="0" rx="0"/>
<rect x="294.99" y="486.80" width="9.36" height="10.65" fill="#F0F020" stroke="none" stroke-width="0" rx="0"/>
<rect x="304.30" y="486.80" width="9.36" height="10.65" fill="#E8E820" stroke="none" stroke-width="0" rx="0"/>
<rect x="313.61" y="486.80" width="9.36" height="10.65" fill="#A0A040" stroke="none" stroke-width="0" rx="0"/>
<rect x="322.92" y="486.80" width="9.36" height="10.65" fill="#C8C828" stroke="none" stroke-width="0" rx="0"/>
<rect x="118.10" y="497.40" width="9.36" height="10.65" fill="#24249A" stroke="none" stroke-width="0" rx="0"/>
<rect x="127.41" y="497.40" width="9.36" height="10.65" fill="#787858" stroke="none" stroke-width="0" rx="0"/>
<rect x="136.72" y="497.40" width="9.36" height="10.65" fill="#F8F818" stroke="none" stroke-width="0" rx="0"/>
<rect x="146.03" y="497.40" width="9.36" height="10.65" fill="#E8E820" stroke="none" stroke-width="0" rx="0"/>
<rect x="155.34" y="497.40" width="9.36" height="10.65" fill="#989840" stroke="none" stroke-width="0" rx="0"/>
<rect x="164.65" y="497.40" width="9.36" height="10.65" fill="#F0F020" stroke="none" stroke-width="0" rx="0"/>
<rect x="173.96" y="497.40" width="9.36" height="10.65" fill="#E8E820" stroke="none" stroke-width="0" rx="0"/>
<rect x="183.27" y="497.40" width="9.36" height="10.65" fill="#F0F020" stroke="none" stroke-width="0" rx="0"/>
<rect x="192.58" y="497.40" width="9.36" height="10.65" fill="#F0F020" stroke="none" stroke-width="0" rx="0"/>
<rect x="201.89" y="497.40" width="9.36" height="10.65" fill="#FFFF18" stroke="none" stroke-width="0" rx="0"/>
<rect x="211.20" y="497.40" width="9.36" height="10.65" fill="#909040" stroke="none" stroke-width="0" rx="0"/>
<rect x="220.51" y="497.40" width="9.36" height="10.65" fill="#F0F020" stroke="none" stroke-width="0" rx="0"/>
<rect x="229.82" y="497.40" width="9.36" height="10.65" fill="#FFFF18" stroke="none" stroke-width="0" rx="0"/>
<rect x="239.13" y="497.40" width="9.36" height="10.65" fill="#FFFF18" stroke="none" stroke-width="0" rx="0"/>
<rect x="248.44" y="497.40" width="9.36" height="10.65" fill="#888848" stroke="none" stroke-width="0" rx="0"/>
<rect x="257.75" y="497.40" width="9.36" height="10.65" fill="#FFFF18" stroke="none" stroke-width="0" rx="0"/>
<rect x="267.06" y="497.40" width="9.36" height="10.65" fill="#FFFF18" stroke="none" stroke-width="0" rx="0"/>
<rect x="276.37" y="497.40" width="9.36" height="10.65" fill="#FFFF18" stroke="none" stroke-width="0" rx="0"/>
<rect x="285.68" y="497.40" width="9.36" height="10.65" fill="#505070" stroke="none" stroke-width="0" rx="0"/>
<rect x="294.99" y="497.40" width="9.36" height="10.65" fill="#FFFF18" stroke="none" stroke-width="0" rx="0"/>
<rect x="304.30" y="497.40" width="9.36" height="10.65" fill="#FFFF18" stroke="none" stroke-width="0" rx="0"/>
<rect x="313.61" y="497.40" width="9.36" height="10.65" fill="#A8A838" stroke="none" stroke-width="0" rx="0"/>
<rect x="322.92" y="497.40" width="9.36" height="10.65" fill="#C8C828" stroke="none" stroke-width="0" rx="0"/>
<rect x="118.10" y="508.00" width="9.36" height="10.65" fill="#06069C" stroke="none" stroke-width="0" rx="0"/>
<rect x="127.41" y="508.00" width="9.36" height="10.65" fill="#404090" stroke="none" stroke-width="0" rx="0"/>
<rect x="136.72" y="508.00" width="9.36" height="10.65" fill="#FFFF18" stroke="none" stroke-width="0" rx="0"/>
<rect x="146.03" y="508.00" width="9.36" height="10.65" fill="#F0F020" stroke="none" stroke-width="0" rx="0"/>
<rect x="155.34" y="508.00" width="9.36" height="10.65" fill="#A0A038" stroke="none" stroke-width="0" rx="0"/>
<rect x="164.65" y="508.00" width="9.36" height="10.65" fill="#FFFF18" stroke="none" stroke-width="0" rx="0"/>
<rect x="173.96" y="508.00" width="9.36" height="10.65" fill="#FFFF18" stroke="none" stroke-width="0" rx="0"/>
<rect x="183.27" y="508.00" width="9.36" height="10.65" fill="#FFFF18" stroke="none" stroke-width="0" rx="0"/>
<rect x="192.58" y="508.00" width="9.36" height="10.65" fill="#FFFF18" stroke="none" stroke-width="0" rx="0"/>
<rect x="201.89" y="508.00" width="9.36" height="10.65" fill="#FFFF18" stroke="none" stroke-width="0" rx="0"/>
<rect x="211.20" y="508.00" width="9.36" height="10.65" fill="#C0C028" stroke="none" stroke-width="0" rx="0"/>
<rect x="220.51" y="508.00" width="9.36" height="10.65" fill="#FFFF18" stroke="none" stroke-width="0" rx="0"/>
<rect x="229.82" y="508.00" width="9.36" height="10.65" fill="#FFFF18" stroke="none" stroke-width="0" rx="0"/>
<rect x="239.13" y="508.00" width="9.36" height="10.65" fill="#FFFF18" stroke="none" stroke-width="0" rx="0"/>
<rect x="248.44" y="508.00" width="9.36" height="10.65" fill="#B8B830" stroke="none" stroke-width="0" rx="0"/>
<rect x="257.75" y="508.00" width="9.36" height="10.65" fill="#FFFF18" stroke="none" stroke-width="0" rx="0"/>
<rect x="267.06" y="508.00" width="9.36" height="10.65" fill="#FFFF18" stroke="none" stroke-width="0" rx="0"/>
<rect x="276.37" y="508.00" width="9.36" height="10.65" fill="#FFFF18" stroke="none" stroke-width="0" rx="0"/>
<rect x="285.68" y="508.00" width="9.36" height="10.65" fill="#C0C028" stroke="none" stroke-width="0" rx="0"/>
<rect x="294.99" y="508.00" width="9.36" height="10.65" fill="#FFFF18" stroke="none" stroke-width="0" rx="0"/>
<rect x="304.30" y="508.00" width="9.36" height="10.65" fill="#FFFF18" stroke="none" stroke-width="0" rx="0"/>
<rect x="313.61" y="508.00" width="9.36" height="10.65" fill="#D0D028" stroke="none" stroke-width="0" rx="0"/>
<rect x="322.92" y="508.00" width="9.36" height="10.65" fill="#E0E020" stroke="none" stroke-width="0" rx="0"/>
<rect x="118.10" y="518.60" width="9.36" height="10.65" fill="#141492" stroke="none" stroke-width="0" rx="0"/>
<rect x="127.41" y="518.60" width="9.36" height="10.65" fill="#585878" stroke="none" stroke-width="0" rx="0"/>
<rect x="136.72" y="518.60" width="9.36" height="10.65" fill="#FFFF18" stroke="none" stroke-width="0" rx="0"/>
<rect x="146.03" y="518.60" width="9.36" height="10.65" fill="#FFFF18" stroke="none" stroke-width="0" rx="0"/>
<rect x="155.34" y="518.60" width="9.36" height="10.65" fill="#A8A838" stroke="none" stroke-width="0" rx="0"/>
<rect x="164.65" y="518.60" width="9.36" height="10.65" fill="#FFFF18" stroke="none" stroke-width="0" rx="0"/>
<rect x="173.96" y="518.60" width="9.36" height="10.65" fill="#FFFF18" stroke="none" stroke-width="0" rx="0"/>
<rect x="183.27" y="518.60" width="9.36" height="10.65" fill="#FFFF18" stroke="none" stroke-width="0" rx="0"/>
<rect x="192.58" y="518.60" width="9.36" height="10.65" fill="#FFFF18" stroke="none" stroke-width="0" rx="0"/>
<rect x="201.89" y="518.60" width="9.36" height="10.65" fill="#FFFF18" stroke="none" stroke-width="0" rx="0"/>
<rect x="211.20" y="518.60" width="9.36" height="10.65" fill="#C0C028" stroke="none" stroke-width="0" rx="0"/>
<rect x="220.51" y="518.60" width="9.36" height="10.65" fill="#FFFF18" stroke="none" stroke-width="0" rx="0"/>
<rect x="229.82" y="518.60" width="9.36" height="10.65" fill="#FFFF18" stroke="none" stroke-width="0" rx="0"/>
<rect x="239.13" y="518.60" width="9.36" height="10.65" fill="#FFFF18" stroke="none" stroke-width="0" rx="0"/>
<rect x="248.44" y="518.60" width="9.36" height="10.65" fill="#B8B830" stroke="none" stroke-width="0" rx="0"/>
<rect x="257.75" y="518.60" width="9.36" height="10.65" fill="#FFFF18" stroke="none" stroke-width="0" rx="0"/>
<rect x="267.06" y="518.60" width="9.36" height="10.65" fill="#FFFF18" stroke="none" stroke-width="0" rx="0"/>
<rect x="276.37" y="518.60" width="9.36" height="10.65" fill="#FFFF18" stroke="none" stroke-width="0" rx="0"/>
<rect x="285.68" y="518.60" width="9.36" height="10.65" fill="#C8C828" stroke="none" stroke-width="0" rx="0"/>
<rect x="294.99" y="518.60" width="9.36" height="10.65" fill="#FFFF18" stroke="none" stroke-width="0" rx="0"/>
<rect x="304.30" y="518.60" width="9.36" height="10.65" fill="#FFFF18" stroke="none" stroke-width="0" rx="0"/>
<rect x="313.61" y="518.60" width="9.36" height="10.65" fill="#D0D028" stroke="none" stroke-width="0" rx="0"/>
<rect x="322.92" y="518.60" width="9.36" height="10.65" fill="#E8E820" stroke="none" stroke-width="0" rx="0"/>
<path d="M118.10,455.00V529.20M127.41,455.00V529.20M136.72,455.00V529.20M146.03,455.00V529.20M155.34,455.00V529.20M164.65,455.00V529.20M173.96,455.00V529.20M183.27,455.00V529.20M192.58,455.00V529.20M201.89,455.00V529.20M211.20,455.00V529.20M220.51,455.00V529.20M229.82,455.00V529.20M239.13,455.00V529.20M248.44,455.00V529.20M257.75,455.00V529.20M267.06,455.00V529.20M276.37,455.00V529.20M285.68,455.00V529.20M294.99,455.00V529.20M304.30,455.00V529.20M313.61,455.00V529.20M322.92,455.00V529.20M332.23,455.00V529.20M118.10,455.00H332.23M118.10,465.60H332.23M118.10,476.20H332.23M118.10,486.80H332.23M118.10,497.40H332.23M118.10,508.00H332.23M118.10,518.60H332.23M118.10,529.20H332.23" stroke="#0a0a0a" stroke-width="0.95" fill="none" stroke-linecap="square"/>
<line x1="115.10" y1="460.30" x2="118.10" y2="460.30" stroke="#000" stroke-width="0.7"/>
<text x="112.90" y="462.57" font-size="6.3" font-weight="bold" font-style="normal" text-anchor="end" fill="#111" stroke="#111" stroke-width="0.12">UT</text>
<line x1="115.10" y1="470.90" x2="118.10" y2="470.90" stroke="#000" stroke-width="0.7"/>
<text x="112.90" y="473.17" font-size="6.3" font-weight="bold" font-style="normal" text-anchor="end" fill="#111" stroke="#111" stroke-width="0.12">UT + hemin/EPO</text>
<line x1="115.10" y1="481.50" x2="118.10" y2="481.50" stroke="#000" stroke-width="0.7"/>
<text x="112.90" y="483.77" font-size="6.3" font-weight="bold" font-style="normal" text-anchor="end" fill="#111" stroke="#111" stroke-width="0.12">LRF-OE</text>
<line x1="115.10" y1="492.10" x2="118.10" y2="492.10" stroke="#000" stroke-width="0.7"/>
<text x="112.90" y="494.37" font-size="6.3" font-weight="bold" font-style="normal" text-anchor="end" fill="#111" stroke="#111" stroke-width="0.12">LRF-OE + hemin/EPO</text>
<line x1="115.10" y1="502.70" x2="118.10" y2="502.70" stroke="#000" stroke-width="0.7"/>
<text x="112.90" y="504.97" font-size="6.3" font-weight="bold" font-style="italic" text-anchor="end" fill="#111" stroke="#111" stroke-width="0.12">ZBTB7A-KD</text>
<line x1="115.10" y1="513.30" x2="118.10" y2="513.30" stroke="#000" stroke-width="0.7"/>
<text x="112.90" y="515.57" font-size="6.3" font-weight="bold" font-style="normal" text-anchor="end" fill="#111" stroke="#111" stroke-width="0.12">DNMT3-OE</text>
<line x1="115.10" y1="523.90" x2="118.10" y2="523.90" stroke="#000" stroke-width="0.7"/>
<text x="112.90" y="526.17" font-size="6.3" font-weight="bold" font-style="normal" text-anchor="end" fill="#111" stroke="#111" stroke-width="0.12">HDAC1-OE</text>
<line x1="122.75" y1="529.20" x2="122.75" y2="531.20" stroke="#000" stroke-width="0.7"/>
<text transform="translate(120.55,537.80) rotate(-45)" font-size="6.0" font-weight="bold" text-anchor="middle" fill="#111" stroke="#111" stroke-width="0.22" dy="2.10">1</text>
<line x1="132.06" y1="529.20" x2="132.06" y2="531.20" stroke="#000" stroke-width="0.7"/>
<text transform="translate(129.87,537.80) rotate(-45)" font-size="6.0" font-weight="bold" text-anchor="middle" fill="#111" stroke="#111" stroke-width="0.22" dy="2.10">2</text>
<line x1="141.38" y1="529.20" x2="141.38" y2="531.20" stroke="#000" stroke-width="0.7"/>
<text transform="translate(139.18,537.80) rotate(-45)" font-size="6.0" font-weight="bold" text-anchor="middle" fill="#111" stroke="#111" stroke-width="0.22" dy="2.10">3</text>
<line x1="150.69" y1="529.20" x2="150.69" y2="531.20" stroke="#000" stroke-width="0.7"/>
<text transform="translate(148.49,537.80) rotate(-45)" font-size="6.0" font-weight="bold" text-anchor="middle" fill="#111" stroke="#111" stroke-width="0.22" dy="2.10">4</text>
<line x1="160.00" y1="529.20" x2="160.00" y2="531.20" stroke="#000" stroke-width="0.7"/>
<text transform="translate(157.80,537.80) rotate(-45)" font-size="6.0" font-weight="bold" text-anchor="middle" fill="#111" stroke="#111" stroke-width="0.22" dy="2.10">5</text>
<line x1="169.31" y1="529.20" x2="169.31" y2="531.20" stroke="#000" stroke-width="0.7"/>
<text transform="translate(167.11,537.80) rotate(-45)" font-size="6.0" font-weight="bold" text-anchor="middle" fill="#111" stroke="#111" stroke-width="0.22" dy="2.10">6</text>
<line x1="178.62" y1="529.20" x2="178.62" y2="531.20" stroke="#000" stroke-width="0.7"/>
<text transform="translate(176.42,537.80) rotate(-45)" font-size="6.0" font-weight="bold" text-anchor="middle" fill="#111" stroke="#111" stroke-width="0.22" dy="2.10">7</text>
<line x1="187.93" y1="529.20" x2="187.93" y2="531.20" stroke="#000" stroke-width="0.7"/>
<text transform="translate(185.73,537.80) rotate(-45)" font-size="6.0" font-weight="bold" text-anchor="middle" fill="#111" stroke="#111" stroke-width="0.22" dy="2.10">8</text>
<line x1="197.24" y1="529.20" x2="197.24" y2="531.20" stroke="#000" stroke-width="0.7"/>
<text transform="translate(195.04,537.80) rotate(-45)" font-size="6.0" font-weight="bold" text-anchor="middle" fill="#111" stroke="#111" stroke-width="0.22" dy="2.10">9</text>
<line x1="206.55" y1="529.20" x2="206.55" y2="531.20" stroke="#000" stroke-width="0.7"/>
<text transform="translate(204.35,537.80) rotate(-45)" font-size="6.0" font-weight="bold" text-anchor="middle" fill="#111" stroke="#111" stroke-width="0.22" dy="2.10">10</text>
<line x1="215.86" y1="529.20" x2="215.86" y2="531.20" stroke="#000" stroke-width="0.7"/>
<text transform="translate(213.66,537.80) rotate(-45)" font-size="6.0" font-weight="bold" text-anchor="middle" fill="#111" stroke="#111" stroke-width="0.22" dy="2.10">11</text>
<line x1="225.17" y1="529.20" x2="225.17" y2="531.20" stroke="#000" stroke-width="0.7"/>
<text transform="translate(222.97,537.80) rotate(-45)" font-size="6.0" font-weight="bold" text-anchor="middle" fill="#111" stroke="#111" stroke-width="0.22" dy="2.10">12</text>
<line x1="234.47" y1="529.20" x2="234.47" y2="531.20" stroke="#000" stroke-width="0.7"/>
<text transform="translate(232.28,537.80) rotate(-45)" font-size="6.0" font-weight="bold" text-anchor="middle" fill="#111" stroke="#111" stroke-width="0.22" dy="2.10">13</text>
<line x1="243.78" y1="529.20" x2="243.78" y2="531.20" stroke="#000" stroke-width="0.7"/>
<text transform="translate(241.59,537.80) rotate(-45)" font-size="6.0" font-weight="bold" text-anchor="middle" fill="#111" stroke="#111" stroke-width="0.22" dy="2.10">14</text>
<line x1="253.09" y1="529.20" x2="253.09" y2="531.20" stroke="#000" stroke-width="0.7"/>
<text transform="translate(250.90,537.80) rotate(-45)" font-size="6.0" font-weight="bold" text-anchor="middle" fill="#111" stroke="#111" stroke-width="0.22" dy="2.10">15</text>
<line x1="262.40" y1="529.20" x2="262.40" y2="531.20" stroke="#000" stroke-width="0.7"/>
<text transform="translate(260.20,537.80) rotate(-45)" font-size="6.0" font-weight="bold" text-anchor="middle" fill="#111" stroke="#111" stroke-width="0.22" dy="2.10">16</text>
<line x1="271.72" y1="529.20" x2="271.72" y2="531.20" stroke="#000" stroke-width="0.7"/>
<text transform="translate(269.52,537.80) rotate(-45)" font-size="6.0" font-weight="bold" text-anchor="middle" fill="#111" stroke="#111" stroke-width="0.22" dy="2.10">17</text>
<line x1="281.02" y1="529.20" x2="281.02" y2="531.20" stroke="#000" stroke-width="0.7"/>
<text transform="translate(278.82,537.80) rotate(-45)" font-size="6.0" font-weight="bold" text-anchor="middle" fill="#111" stroke="#111" stroke-width="0.22" dy="2.10">18</text>
<line x1="290.34" y1="529.20" x2="290.34" y2="531.20" stroke="#000" stroke-width="0.7"/>
<text transform="translate(288.14,537.80) rotate(-45)" font-size="6.0" font-weight="bold" text-anchor="middle" fill="#111" stroke="#111" stroke-width="0.22" dy="2.10">19</text>
<line x1="299.64" y1="529.20" x2="299.64" y2="531.20" stroke="#000" stroke-width="0.7"/>
<text transform="translate(297.44,537.80) rotate(-45)" font-size="6.0" font-weight="bold" text-anchor="middle" fill="#111" stroke="#111" stroke-width="0.22" dy="2.10">20</text>
<line x1="308.96" y1="529.20" x2="308.96" y2="531.20" stroke="#000" stroke-width="0.7"/>
<text transform="translate(306.76,537.80) rotate(-45)" font-size="6.0" font-weight="bold" text-anchor="middle" fill="#111" stroke="#111" stroke-width="0.22" dy="2.10">21</text>
<line x1="318.26" y1="529.20" x2="318.26" y2="531.20" stroke="#000" stroke-width="0.7"/>
<text transform="translate(316.06,537.80) rotate(-45)" font-size="6.0" font-weight="bold" text-anchor="middle" fill="#111" stroke="#111" stroke-width="0.22" dy="2.10">22</text>
<line x1="327.58" y1="529.20" x2="327.58" y2="531.20" stroke="#000" stroke-width="0.7"/>
<g transform="translate(326.98,532.40) rotate(-45)"><text x="0" y="2.84" font-size="5.16" font-weight="bold" text-anchor="end" fill="#111" stroke="#111" stroke-width="0.2">CpG</text><text x="-1" y="7.22" font-size="5.16" font-weight="bold" text-anchor="end" fill="#111" stroke="#111" stroke-width="0.2">area</text></g>
<rect x="341.30" y="454.80" width="5.50" height="74.40" fill="url(#cbLrf)" stroke="#0a0a0a" stroke-width="0.7" rx="0"/>
<line x1="345.20" y1="461.40" x2="346.80" y2="461.40" stroke="#000" stroke-width="0.6"/>
<text x="350.50" y="463.67" font-size="6.3" font-weight="normal" font-style="normal" text-anchor="start" fill="#111">80</text>
<line x1="345.20" y1="478.80" x2="346.80" y2="478.80" stroke="#000" stroke-width="0.6"/>
<text x="350.50" y="481.07" font-size="6.3" font-weight="normal" font-style="normal" text-anchor="start" fill="#111">60</text>
<line x1="345.20" y1="496.20" x2="346.80" y2="496.20" stroke="#000" stroke-width="0.6"/>
<text x="350.50" y="498.47" font-size="6.3" font-weight="normal" font-style="normal" text-anchor="start" fill="#111">40</text>
<line x1="345.20" y1="513.70" x2="346.80" y2="513.70" stroke="#000" stroke-width="0.6"/>
<text x="350.50" y="515.97" font-size="6.3" font-weight="normal" font-style="normal" text-anchor="start" fill="#111">20</text>
</g>
</svg>
</body>
</html>
